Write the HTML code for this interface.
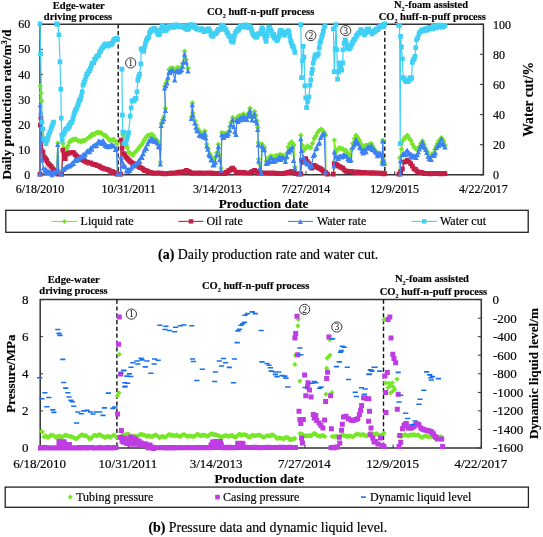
<!DOCTYPE html>
<html lang="en"><head><meta charset="utf-8"><title>Production data</title>
<style>html,body{margin:0;padding:0;background:#fff}</style></head>
<body>
<svg width="543" height="537" viewBox="0 0 543 537" style="display:block;font-family:'Liberation Serif','Times New Roman',serif">
<rect width="543" height="537" fill="#fff"/>
<g stroke="#333" stroke-width="1.5" fill="none">
<path d="M40 24.2V174.8H483.4V24.2H39.4"/>
<path stroke-width="1" d="M40 24.2h3M40 49.3h3M40 74.4h3M40 99.5h3M40 124.6h3M40 149.7h3M40 174.8h3M483.4 24.2h-3.5M483.4 54.3h-3.5M483.4 84.4h-3.5M483.4 114.6h-3.5M483.4 144.7h-3.5M483.4 174.8h-3.5M40 174.8v-3.5M128.7 174.8v-3.5M217.4 174.8v-3.5M306 174.8v-3.5M394.7 174.8v-3.5M483.4 174.8v-3.5"/>
</g>
<path d="M118.2 24.2V174.8M384.8 24.2V174.8" stroke="#111" stroke-width="1.4" stroke-dasharray="4.2 2.6" fill="none"/>
<path d="M40 174 L40.3 86 L41 93 L41.6 101 L42 128 L42.6 150 L44.5 156 L48 163 L52.8 168 L56.5 172 L57.8 143 L59 171" fill="none" stroke="#78E628" stroke-width="1.2" stroke-linejoin="round"/>
<path d="M61.5 174 L62.8 143.6 L65.3 153.7 L69.5 142 L74.5 139.4 L81.2 142 L86.3 139.4 L93 134.4 L98.8 132.7 L104.7 135.2 L109.7 140.3 L114.8 140.3 L117 143.6 L117.5 174" fill="none" stroke="#78E628" stroke-width="1.2" stroke-linejoin="round"/>
<path d="M121 174 L121.5 140 L124.4 132 L126 145 L128.6 152 L132.8 155.4 L137.8 149.5 L142.8 142.8 L147 136 L152 134.4 L156.2 139.4 L159.6 145.3 L160.4 162 L161.2 123.5 L163.8 116.8 L165.4 108.4 L164.6 86 L167 81 L169 69.5 L173 68 L174.7 71 L176.3 68.5 L180.5 68 L182.5 63.5 L184.6 51.3 L186.2 59.5 L188 68.5" fill="none" stroke="#78E628" stroke-width="1.2" stroke-linejoin="round"/>
<path d="M191.4 117 L192.3 102.9 L193 113 L194.8 120.8 L198 129 L201.5 134 L204.8 131 L205.9 136 L206.7 144 L210 154 L214.2 162.7 L216.8 152.7 L218.4 144.3 L221 168 L221.8 132.6 L225 133.4 L228.5 131.7 L231 122.5 L232.7 117.5 L236 121 L236.9 118 L240.2 115.8 L243.6 114 L246.9 117.5 L250 108.3 L252 118 L254.5 111.6 L257 120.8 L257.8 127.5 L258.3 142.6 L258.7 159 L261.2 171.5 L262 144 L264.5 147.7 L266.2 161 L270.4 156 L273.7 157.7 L278.8 155.2 L283.8 156 L285.5 159 L288.2 147 L291.5 142 L294 145.3 L294.9 167" fill="none" stroke="#78E628" stroke-width="1.2" stroke-linejoin="round"/>
<path d="M300.2 174 L300.8 135.2 L302.4 145.3 L304 150.3 L307.5 146 L310.8 147.8 L314.2 138.6 L317.5 132.7 L320.9 129.4 L324.2 132 L325.6 135 L325.9 174" fill="none" stroke="#78E628" stroke-width="1.2" stroke-linejoin="round"/>
<path d="M333.8 174 L334.3 140.3 L336 152 L339.3 147.8 L342.7 148.7 L346.8 152 L350.2 157 L352.7 143.6 L356 135.2 L359.4 140.3 L362.8 147.8 L367.8 145.3 L371.4 143.6 L376.4 152.8 L380.6 153.7 L382.2 162 L382.7 140.3 L383.5 160 L384.8 163.7" fill="none" stroke="#78E628" stroke-width="1.2" stroke-linejoin="round"/>
<path d="M399 174 L399.8 157.9 L403.2 140.3 L407.4 135.2 L410.7 140.3 L414 147 L416.6 149.5 L419 147 L422.5 141 L425.8 148.7 L429.2 157 L433.4 153.7 L437.5 143.6 L441.4 137.8 L445 145.3" fill="none" stroke="#78E628" stroke-width="1.2" stroke-linejoin="round"/>
<path d="M40 171.2l2.8 2.8l-2.8 2.8l-2.8 -2.8zM40.3 83.2l2.8 2.8l-2.8 2.8l-2.8 -2.8zM41 90.2l2.8 2.8l-2.8 2.8l-2.8 -2.8zM41.6 98.2l2.8 2.8l-2.8 2.8l-2.8 -2.8zM42 125.2l2.8 2.8l-2.8 2.8l-2.8 -2.8zM42.6 147.2l2.8 2.8l-2.8 2.8l-2.8 -2.8zM44.5 153.2l2.8 2.8l-2.8 2.8l-2.8 -2.8zM46.2 156.2l2.8 2.8l-2.8 2.8l-2.8 -2.8zM48 160.2l2.8 2.8l-2.8 2.8l-2.8 -2.8zM49.6 161.1l2.8 2.8l-2.8 2.8l-2.8 -2.8zM51.2 163.5l2.8 2.8l-2.8 2.8l-2.8 -2.8zM52.8 165.2l2.8 2.8l-2.8 2.8l-2.8 -2.8zM54 165.6l2.8 2.8l-2.8 2.8l-2.8 -2.8zM55.3 167.7l2.8 2.8l-2.8 2.8l-2.8 -2.8zM56.5 169.2l2.8 2.8l-2.8 2.8l-2.8 -2.8zM57.8 140.2l2.8 2.8l-2.8 2.8l-2.8 -2.8zM59 168.2l2.8 2.8l-2.8 2.8l-2.8 -2.8zM61.5 171.2l2.8 2.8l-2.8 2.8l-2.8 -2.8zM62.8 140.8l2.8 2.8l-2.8 2.8l-2.8 -2.8zM64 145.4l2.8 2.8l-2.8 2.8l-2.8 -2.8zM65.3 150.9l2.8 2.8l-2.8 2.8l-2.8 -2.8zM66.7 146.1l2.8 2.8l-2.8 2.8l-2.8 -2.8zM68.1 142.9l2.8 2.8l-2.8 2.8l-2.8 -2.8zM69.5 139.2l2.8 2.8l-2.8 2.8l-2.8 -2.8zM70.8 137.6l2.8 2.8l-2.8 2.8l-2.8 -2.8zM72 137.6l2.8 2.8l-2.8 2.8l-2.8 -2.8zM73.2 136.4l2.8 2.8l-2.8 2.8l-2.8 -2.8zM74.5 136.6l2.8 2.8l-2.8 2.8l-2.8 -2.8zM75.8 136.3l2.8 2.8l-2.8 2.8l-2.8 -2.8zM77.2 137.3l2.8 2.8l-2.8 2.8l-2.8 -2.8zM78.5 138.4l2.8 2.8l-2.8 2.8l-2.8 -2.8zM79.9 137.9l2.8 2.8l-2.8 2.8l-2.8 -2.8zM81.2 139.2l2.8 2.8l-2.8 2.8l-2.8 -2.8zM82.5 137.9l2.8 2.8l-2.8 2.8l-2.8 -2.8zM83.8 137.8l2.8 2.8l-2.8 2.8l-2.8 -2.8zM85 137.7l2.8 2.8l-2.8 2.8l-2.8 -2.8zM86.3 136.6l2.8 2.8l-2.8 2.8l-2.8 -2.8zM87.6 135.5l2.8 2.8l-2.8 2.8l-2.8 -2.8zM89 134.2l2.8 2.8l-2.8 2.8l-2.8 -2.8zM90.3 134.1l2.8 2.8l-2.8 2.8l-2.8 -2.8zM91.7 131.7l2.8 2.8l-2.8 2.8l-2.8 -2.8zM93 131.6l2.8 2.8l-2.8 2.8l-2.8 -2.8zM94.5 131.5l2.8 2.8l-2.8 2.8l-2.8 -2.8zM95.9 130.2l2.8 2.8l-2.8 2.8l-2.8 -2.8zM97.3 129.5l2.8 2.8l-2.8 2.8l-2.8 -2.8zM98.8 129.9l2.8 2.8l-2.8 2.8l-2.8 -2.8zM100.3 129.7l2.8 2.8l-2.8 2.8l-2.8 -2.8zM101.8 130.6l2.8 2.8l-2.8 2.8l-2.8 -2.8zM103.2 132l2.8 2.8l-2.8 2.8l-2.8 -2.8zM104.7 132.4l2.8 2.8l-2.8 2.8l-2.8 -2.8zM106 132.9l2.8 2.8l-2.8 2.8l-2.8 -2.8zM107.2 134.8l2.8 2.8l-2.8 2.8l-2.8 -2.8zM108.5 136.2l2.8 2.8l-2.8 2.8l-2.8 -2.8zM109.7 137.5l2.8 2.8l-2.8 2.8l-2.8 -2.8zM111 137.1l2.8 2.8l-2.8 2.8l-2.8 -2.8zM112.2 137.3l2.8 2.8l-2.8 2.8l-2.8 -2.8zM113.5 136.6l2.8 2.8l-2.8 2.8l-2.8 -2.8zM114.8 137.5l2.8 2.8l-2.8 2.8l-2.8 -2.8zM117 140.8l2.8 2.8l-2.8 2.8l-2.8 -2.8zM117.5 171.2l2.8 2.8l-2.8 2.8l-2.8 -2.8zM121 171.2l2.8 2.8l-2.8 2.8l-2.8 -2.8zM121.5 137.2l2.8 2.8l-2.8 2.8l-2.8 -2.8zM123 132.3l2.8 2.8l-2.8 2.8l-2.8 -2.8zM124.4 129.2l2.8 2.8l-2.8 2.8l-2.8 -2.8zM126 142.2l2.8 2.8l-2.8 2.8l-2.8 -2.8zM127.3 145l2.8 2.8l-2.8 2.8l-2.8 -2.8zM128.6 149.2l2.8 2.8l-2.8 2.8l-2.8 -2.8zM130 150.4l2.8 2.8l-2.8 2.8l-2.8 -2.8zM131.4 151.1l2.8 2.8l-2.8 2.8l-2.8 -2.8zM132.8 152.6l2.8 2.8l-2.8 2.8l-2.8 -2.8zM134.1 150.6l2.8 2.8l-2.8 2.8l-2.8 -2.8zM135.3 149.5l2.8 2.8l-2.8 2.8l-2.8 -2.8zM136.6 147.9l2.8 2.8l-2.8 2.8l-2.8 -2.8zM137.8 146.7l2.8 2.8l-2.8 2.8l-2.8 -2.8zM139.1 144.5l2.8 2.8l-2.8 2.8l-2.8 -2.8zM140.3 143.5l2.8 2.8l-2.8 2.8l-2.8 -2.8zM141.6 141.7l2.8 2.8l-2.8 2.8l-2.8 -2.8zM142.8 140l2.8 2.8l-2.8 2.8l-2.8 -2.8zM144.2 137.1l2.8 2.8l-2.8 2.8l-2.8 -2.8zM145.6 135.3l2.8 2.8l-2.8 2.8l-2.8 -2.8zM147 133.2l2.8 2.8l-2.8 2.8l-2.8 -2.8zM148.2 132.6l2.8 2.8l-2.8 2.8l-2.8 -2.8zM149.5 132.7l2.8 2.8l-2.8 2.8l-2.8 -2.8zM150.8 132.1l2.8 2.8l-2.8 2.8l-2.8 -2.8zM152 131.6l2.8 2.8l-2.8 2.8l-2.8 -2.8zM153.4 132.7l2.8 2.8l-2.8 2.8l-2.8 -2.8zM154.8 135.4l2.8 2.8l-2.8 2.8l-2.8 -2.8zM156.2 136.6l2.8 2.8l-2.8 2.8l-2.8 -2.8zM157.9 138.7l2.8 2.8l-2.8 2.8l-2.8 -2.8zM159.6 142.5l2.8 2.8l-2.8 2.8l-2.8 -2.8zM160.4 159.2l2.8 2.8l-2.8 2.8l-2.8 -2.8zM161.2 120.7l2.8 2.8l-2.8 2.8l-2.8 -2.8zM162.5 117l2.8 2.8l-2.8 2.8l-2.8 -2.8zM163.8 114l2.8 2.8l-2.8 2.8l-2.8 -2.8zM165.4 105.6l2.8 2.8l-2.8 2.8l-2.8 -2.8zM164.6 83.2l2.8 2.8l-2.8 2.8l-2.8 -2.8zM165.8 80.8l2.8 2.8l-2.8 2.8l-2.8 -2.8zM167 78.2l2.8 2.8l-2.8 2.8l-2.8 -2.8zM169 66.7l2.8 2.8l-2.8 2.8l-2.8 -2.8zM170.3 65.4l2.8 2.8l-2.8 2.8l-2.8 -2.8zM171.7 65.4l2.8 2.8l-2.8 2.8l-2.8 -2.8zM173 65.2l2.8 2.8l-2.8 2.8l-2.8 -2.8zM174.7 68.2l2.8 2.8l-2.8 2.8l-2.8 -2.8zM176.3 65.7l2.8 2.8l-2.8 2.8l-2.8 -2.8zM177.7 64.6l2.8 2.8l-2.8 2.8l-2.8 -2.8zM179.1 65.4l2.8 2.8l-2.8 2.8l-2.8 -2.8zM180.5 65.2l2.8 2.8l-2.8 2.8l-2.8 -2.8zM182.5 60.7l2.8 2.8l-2.8 2.8l-2.8 -2.8zM184.6 48.5l2.8 2.8l-2.8 2.8l-2.8 -2.8zM186.2 56.7l2.8 2.8l-2.8 2.8l-2.8 -2.8zM188 65.7l2.8 2.8l-2.8 2.8l-2.8 -2.8zM191.4 114.2l2.8 2.8l-2.8 2.8l-2.8 -2.8zM192.3 100.1l2.8 2.8l-2.8 2.8l-2.8 -2.8zM193 110.2l2.8 2.8l-2.8 2.8l-2.8 -2.8zM194.8 118l2.8 2.8l-2.8 2.8l-2.8 -2.8zM196.4 122.2l2.8 2.8l-2.8 2.8l-2.8 -2.8zM198 126.2l2.8 2.8l-2.8 2.8l-2.8 -2.8zM199.8 128.6l2.8 2.8l-2.8 2.8l-2.8 -2.8zM201.5 131.2l2.8 2.8l-2.8 2.8l-2.8 -2.8zM203.2 130l2.8 2.8l-2.8 2.8l-2.8 -2.8zM204.8 128.2l2.8 2.8l-2.8 2.8l-2.8 -2.8zM205.9 133.2l2.8 2.8l-2.8 2.8l-2.8 -2.8zM206.7 141.2l2.8 2.8l-2.8 2.8l-2.8 -2.8zM208.3 145.7l2.8 2.8l-2.8 2.8l-2.8 -2.8zM210 151.2l2.8 2.8l-2.8 2.8l-2.8 -2.8zM211.4 154.1l2.8 2.8l-2.8 2.8l-2.8 -2.8zM212.8 156.9l2.8 2.8l-2.8 2.8l-2.8 -2.8zM214.2 159.9l2.8 2.8l-2.8 2.8l-2.8 -2.8zM215.5 154.8l2.8 2.8l-2.8 2.8l-2.8 -2.8zM216.8 149.9l2.8 2.8l-2.8 2.8l-2.8 -2.8zM218.4 141.5l2.8 2.8l-2.8 2.8l-2.8 -2.8zM219.7 153l2.8 2.8l-2.8 2.8l-2.8 -2.8zM221 165.2l2.8 2.8l-2.8 2.8l-2.8 -2.8zM221.8 129.8l2.8 2.8l-2.8 2.8l-2.8 -2.8zM223.4 130.5l2.8 2.8l-2.8 2.8l-2.8 -2.8zM225 130.6l2.8 2.8l-2.8 2.8l-2.8 -2.8zM226.8 130.2l2.8 2.8l-2.8 2.8l-2.8 -2.8zM228.5 128.9l2.8 2.8l-2.8 2.8l-2.8 -2.8zM229.8 124l2.8 2.8l-2.8 2.8l-2.8 -2.8zM231 119.7l2.8 2.8l-2.8 2.8l-2.8 -2.8zM232.7 114.7l2.8 2.8l-2.8 2.8l-2.8 -2.8zM234.3 116.4l2.8 2.8l-2.8 2.8l-2.8 -2.8zM236 118.2l2.8 2.8l-2.8 2.8l-2.8 -2.8zM236.9 115.2l2.8 2.8l-2.8 2.8l-2.8 -2.8zM238.6 113.2l2.8 2.8l-2.8 2.8l-2.8 -2.8zM240.2 113l2.8 2.8l-2.8 2.8l-2.8 -2.8zM241.9 112.2l2.8 2.8l-2.8 2.8l-2.8 -2.8zM243.6 111.2l2.8 2.8l-2.8 2.8l-2.8 -2.8zM245.2 112.9l2.8 2.8l-2.8 2.8l-2.8 -2.8zM246.9 114.7l2.8 2.8l-2.8 2.8l-2.8 -2.8zM248.4 110.6l2.8 2.8l-2.8 2.8l-2.8 -2.8zM250 105.5l2.8 2.8l-2.8 2.8l-2.8 -2.8zM252 115.2l2.8 2.8l-2.8 2.8l-2.8 -2.8zM253.2 112.2l2.8 2.8l-2.8 2.8l-2.8 -2.8zM254.5 108.8l2.8 2.8l-2.8 2.8l-2.8 -2.8zM255.8 112.8l2.8 2.8l-2.8 2.8l-2.8 -2.8zM257 118l2.8 2.8l-2.8 2.8l-2.8 -2.8zM257.8 124.7l2.8 2.8l-2.8 2.8l-2.8 -2.8zM258.3 139.8l2.8 2.8l-2.8 2.8l-2.8 -2.8zM258.7 156.2l2.8 2.8l-2.8 2.8l-2.8 -2.8zM259.9 162l2.8 2.8l-2.8 2.8l-2.8 -2.8zM261.2 168.7l2.8 2.8l-2.8 2.8l-2.8 -2.8zM262 141.2l2.8 2.8l-2.8 2.8l-2.8 -2.8zM263.2 143.1l2.8 2.8l-2.8 2.8l-2.8 -2.8zM264.5 144.9l2.8 2.8l-2.8 2.8l-2.8 -2.8zM266.2 158.2l2.8 2.8l-2.8 2.8l-2.8 -2.8zM267.6 155.6l2.8 2.8l-2.8 2.8l-2.8 -2.8zM269 154.6l2.8 2.8l-2.8 2.8l-2.8 -2.8zM270.4 153.2l2.8 2.8l-2.8 2.8l-2.8 -2.8zM272 153.3l2.8 2.8l-2.8 2.8l-2.8 -2.8zM273.7 154.9l2.8 2.8l-2.8 2.8l-2.8 -2.8zM275 153.5l2.8 2.8l-2.8 2.8l-2.8 -2.8zM276.2 152.7l2.8 2.8l-2.8 2.8l-2.8 -2.8zM277.5 153.2l2.8 2.8l-2.8 2.8l-2.8 -2.8zM278.8 152.4l2.8 2.8l-2.8 2.8l-2.8 -2.8zM280.1 151.8l2.8 2.8l-2.8 2.8l-2.8 -2.8zM281.3 152.2l2.8 2.8l-2.8 2.8l-2.8 -2.8zM282.6 152.6l2.8 2.8l-2.8 2.8l-2.8 -2.8zM283.8 153.2l2.8 2.8l-2.8 2.8l-2.8 -2.8zM285.5 156.2l2.8 2.8l-2.8 2.8l-2.8 -2.8zM286.9 150.5l2.8 2.8l-2.8 2.8l-2.8 -2.8zM288.2 144.2l2.8 2.8l-2.8 2.8l-2.8 -2.8zM289.9 140.8l2.8 2.8l-2.8 2.8l-2.8 -2.8zM291.5 139.2l2.8 2.8l-2.8 2.8l-2.8 -2.8zM292.8 140.5l2.8 2.8l-2.8 2.8l-2.8 -2.8zM294 142.5l2.8 2.8l-2.8 2.8l-2.8 -2.8zM294.9 164.2l2.8 2.8l-2.8 2.8l-2.8 -2.8zM300.2 171.2l2.8 2.8l-2.8 2.8l-2.8 -2.8zM300.8 132.4l2.8 2.8l-2.8 2.8l-2.8 -2.8zM302.4 142.5l2.8 2.8l-2.8 2.8l-2.8 -2.8zM304 147.5l2.8 2.8l-2.8 2.8l-2.8 -2.8zM305.8 145.2l2.8 2.8l-2.8 2.8l-2.8 -2.8zM307.5 143.2l2.8 2.8l-2.8 2.8l-2.8 -2.8zM309.1 144.4l2.8 2.8l-2.8 2.8l-2.8 -2.8zM310.8 145l2.8 2.8l-2.8 2.8l-2.8 -2.8zM312.5 140.6l2.8 2.8l-2.8 2.8l-2.8 -2.8zM314.2 135.8l2.8 2.8l-2.8 2.8l-2.8 -2.8zM315.9 133.1l2.8 2.8l-2.8 2.8l-2.8 -2.8zM317.5 129.9l2.8 2.8l-2.8 2.8l-2.8 -2.8zM319.2 127.7l2.8 2.8l-2.8 2.8l-2.8 -2.8zM320.9 126.6l2.8 2.8l-2.8 2.8l-2.8 -2.8zM322.5 127.5l2.8 2.8l-2.8 2.8l-2.8 -2.8zM324.2 129.2l2.8 2.8l-2.8 2.8l-2.8 -2.8zM325.6 132.2l2.8 2.8l-2.8 2.8l-2.8 -2.8zM325.9 171.2l2.8 2.8l-2.8 2.8l-2.8 -2.8zM333.8 171.2l2.8 2.8l-2.8 2.8l-2.8 -2.8zM334.3 137.5l2.8 2.8l-2.8 2.8l-2.8 -2.8zM336 149.2l2.8 2.8l-2.8 2.8l-2.8 -2.8zM337.6 146.6l2.8 2.8l-2.8 2.8l-2.8 -2.8zM339.3 145l2.8 2.8l-2.8 2.8l-2.8 -2.8zM341 145.8l2.8 2.8l-2.8 2.8l-2.8 -2.8zM342.7 145.9l2.8 2.8l-2.8 2.8l-2.8 -2.8zM344.1 147.4l2.8 2.8l-2.8 2.8l-2.8 -2.8zM345.4 147.3l2.8 2.8l-2.8 2.8l-2.8 -2.8zM346.8 149.2l2.8 2.8l-2.8 2.8l-2.8 -2.8zM348.5 151l2.8 2.8l-2.8 2.8l-2.8 -2.8zM350.2 154.2l2.8 2.8l-2.8 2.8l-2.8 -2.8zM351.4 146.8l2.8 2.8l-2.8 2.8l-2.8 -2.8zM352.7 140.8l2.8 2.8l-2.8 2.8l-2.8 -2.8zM354.4 136l2.8 2.8l-2.8 2.8l-2.8 -2.8zM356 132.4l2.8 2.8l-2.8 2.8l-2.8 -2.8zM357.7 134.7l2.8 2.8l-2.8 2.8l-2.8 -2.8zM359.4 137.5l2.8 2.8l-2.8 2.8l-2.8 -2.8zM361.1 141.1l2.8 2.8l-2.8 2.8l-2.8 -2.8zM362.8 145l2.8 2.8l-2.8 2.8l-2.8 -2.8zM364.1 143.8l2.8 2.8l-2.8 2.8l-2.8 -2.8zM365.3 142.8l2.8 2.8l-2.8 2.8l-2.8 -2.8zM366.6 142.8l2.8 2.8l-2.8 2.8l-2.8 -2.8zM367.8 142.5l2.8 2.8l-2.8 2.8l-2.8 -2.8zM369.6 141.2l2.8 2.8l-2.8 2.8l-2.8 -2.8zM371.4 140.8l2.8 2.8l-2.8 2.8l-2.8 -2.8zM372.6 142.9l2.8 2.8l-2.8 2.8l-2.8 -2.8zM373.9 145.8l2.8 2.8l-2.8 2.8l-2.8 -2.8zM375.1 147.7l2.8 2.8l-2.8 2.8l-2.8 -2.8zM376.4 150l2.8 2.8l-2.8 2.8l-2.8 -2.8zM377.8 150.1l2.8 2.8l-2.8 2.8l-2.8 -2.8zM379.2 150.5l2.8 2.8l-2.8 2.8l-2.8 -2.8zM380.6 150.9l2.8 2.8l-2.8 2.8l-2.8 -2.8zM382.2 159.2l2.8 2.8l-2.8 2.8l-2.8 -2.8zM382.7 137.5l2.8 2.8l-2.8 2.8l-2.8 -2.8zM383.5 157.2l2.8 2.8l-2.8 2.8l-2.8 -2.8zM384.8 160.9l2.8 2.8l-2.8 2.8l-2.8 -2.8zM399 171.2l2.8 2.8l-2.8 2.8l-2.8 -2.8zM399.8 155.1l2.8 2.8l-2.8 2.8l-2.8 -2.8zM401.5 146.3l2.8 2.8l-2.8 2.8l-2.8 -2.8zM403.2 137.5l2.8 2.8l-2.8 2.8l-2.8 -2.8zM404.6 134.9l2.8 2.8l-2.8 2.8l-2.8 -2.8zM406 134.4l2.8 2.8l-2.8 2.8l-2.8 -2.8zM407.4 132.4l2.8 2.8l-2.8 2.8l-2.8 -2.8zM409 135.1l2.8 2.8l-2.8 2.8l-2.8 -2.8zM410.7 137.5l2.8 2.8l-2.8 2.8l-2.8 -2.8zM412.4 141.2l2.8 2.8l-2.8 2.8l-2.8 -2.8zM414 144.2l2.8 2.8l-2.8 2.8l-2.8 -2.8zM415.3 145.6l2.8 2.8l-2.8 2.8l-2.8 -2.8zM416.6 146.7l2.8 2.8l-2.8 2.8l-2.8 -2.8zM419 144.2l2.8 2.8l-2.8 2.8l-2.8 -2.8zM420.8 140.8l2.8 2.8l-2.8 2.8l-2.8 -2.8zM422.5 138.2l2.8 2.8l-2.8 2.8l-2.8 -2.8zM424.1 141.6l2.8 2.8l-2.8 2.8l-2.8 -2.8zM425.8 145.9l2.8 2.8l-2.8 2.8l-2.8 -2.8zM427.5 149.2l2.8 2.8l-2.8 2.8l-2.8 -2.8zM429.2 154.2l2.8 2.8l-2.8 2.8l-2.8 -2.8zM430.6 153.1l2.8 2.8l-2.8 2.8l-2.8 -2.8zM432 151.1l2.8 2.8l-2.8 2.8l-2.8 -2.8zM433.4 150.9l2.8 2.8l-2.8 2.8l-2.8 -2.8zM434.8 146.6l2.8 2.8l-2.8 2.8l-2.8 -2.8zM436.1 143.5l2.8 2.8l-2.8 2.8l-2.8 -2.8zM437.5 140.8l2.8 2.8l-2.8 2.8l-2.8 -2.8zM438.8 138.1l2.8 2.8l-2.8 2.8l-2.8 -2.8zM440.1 136.4l2.8 2.8l-2.8 2.8l-2.8 -2.8zM441.4 135l2.8 2.8l-2.8 2.8l-2.8 -2.8zM442.6 136.6l2.8 2.8l-2.8 2.8l-2.8 -2.8zM443.8 139l2.8 2.8l-2.8 2.8l-2.8 -2.8zM445 142.5l2.8 2.8l-2.8 2.8l-2.8 -2.8z" fill="#78E628" stroke="none"/>
<path d="M40 174 L40.4 125 L41 118 L41.8 140 L43 152 L44.4 157 L48 163 L52.8 168.8 L57.8 174 L60 174" fill="none" stroke="#C31E46" stroke-width="1.2" stroke-linejoin="round"/>
<path d="M61.8 174 L62.8 150 L65.3 158.7 L67 154 L69.5 152.8 L73.7 152.8 L79.6 158.7 L86.3 162 L94.7 164.6 L103 168 L111.4 171.3 L116.4 173.5 L117.5 174" fill="none" stroke="#C31E46" stroke-width="1.2" stroke-linejoin="round"/>
<path d="M120.5 174 L121 140 L122 148 L123.5 153.7 L126 157 L131 162 L137.8 166 L144.5 170.4 L152.9 173 L166.3 173.6 L183 172 L186.4 170.4 L191.4 173 L205 173 L225 173.5 L230 170 L232.7 168 L236 172 L250 173 L254.5 170.4 L258 173 L284 173.4 L292.4 171.3 L295.7 173.5 L300.8 173.8 L301.6 160.4 L304 162 L305.8 158.7 L309 163.7 L311.7 168 L314.2 165.4 L319.2 168 L324.2 172 L327.6 174" fill="none" stroke="#C31E46" stroke-width="1.2" stroke-linejoin="round"/>
<path d="M333.4 174 L334.3 163.7 L339.3 166.3 L342.7 168 L346 171.3 L354.4 172 L374 173 L384.8 173.6" fill="none" stroke="#C31E46" stroke-width="1.2" stroke-linejoin="round"/>
<path d="M399 174 L402.4 168.8 L404 162 L407.4 160.4 L410.7 163.7 L414 168.8 L418.3 172 L426.7 173.6 L445 173.6" fill="none" stroke="#C31E46" stroke-width="1.2" stroke-linejoin="round"/>
<path d="M37.6 171.7h4.7v4.7h-4.7zM38 122.7h4.7v4.7h-4.7zM38.6 115.7h4.7v4.7h-4.7zM39.4 137.7h4.7v4.7h-4.7zM40.6 149.7h4.7v4.7h-4.7zM42 154.7h4.7v4.7h-4.7zM43.2 156.4h4.7v4.7h-4.7zM44.4 158.3h4.7v4.7h-4.7zM45.6 160.7h4.7v4.7h-4.7zM47.2 162.5h4.7v4.7h-4.7zM48.8 164.1h4.7v4.7h-4.7zM50.4 166.5h4.7v4.7h-4.7zM51.7 168h4.7v4.7h-4.7zM52.9 169.1h4.7v4.7h-4.7zM54.2 170.1h4.7v4.7h-4.7zM55.4 171.7h4.7v4.7h-4.7zM57.6 171.7h4.7v4.7h-4.7zM59.4 171.7h4.7v4.7h-4.7zM60.4 147.7h4.7v4.7h-4.7zM61.7 151.8h4.7v4.7h-4.7zM62.9 156.3h4.7v4.7h-4.7zM64.7 151.7h4.7v4.7h-4.7zM65.9 150.9h4.7v4.7h-4.7zM67.2 150.5h4.7v4.7h-4.7zM68.6 150.3h4.7v4.7h-4.7zM70 150.1h4.7v4.7h-4.7zM71.4 150.5h4.7v4.7h-4.7zM72.8 152.2h4.7v4.7h-4.7zM74.3 153.8h4.7v4.7h-4.7zM75.8 154.8h4.7v4.7h-4.7zM77.2 156.3h4.7v4.7h-4.7zM78.6 157h4.7v4.7h-4.7zM79.9 157.3h4.7v4.7h-4.7zM81.3 158h4.7v4.7h-4.7zM82.6 158.9h4.7v4.7h-4.7zM84 159.7h4.7v4.7h-4.7zM85.2 159.8h4.7v4.7h-4.7zM86.4 160.7h4.7v4.7h-4.7zM87.6 160.5h4.7v4.7h-4.7zM88.8 160.8h4.7v4.7h-4.7zM90 161.9h4.7v4.7h-4.7zM91.2 161.9h4.7v4.7h-4.7zM92.4 162.2h4.7v4.7h-4.7zM93.7 162.5h4.7v4.7h-4.7zM95.1 163.4h4.7v4.7h-4.7zM96.5 163.6h4.7v4.7h-4.7zM97.9 164.5h4.7v4.7h-4.7zM99.3 165.5h4.7v4.7h-4.7zM100.7 165.7h4.7v4.7h-4.7zM101.9 166.4h4.7v4.7h-4.7zM103.1 166.7h4.7v4.7h-4.7zM104.3 166.9h4.7v4.7h-4.7zM105.5 167.4h4.7v4.7h-4.7zM106.7 167.7h4.7v4.7h-4.7zM107.9 168.7h4.7v4.7h-4.7zM109.1 169h4.7v4.7h-4.7zM110.3 169.5h4.7v4.7h-4.7zM111.6 170.3h4.7v4.7h-4.7zM112.8 170.5h4.7v4.7h-4.7zM114.1 171.2h4.7v4.7h-4.7zM115.2 171.7h4.7v4.7h-4.7zM118.2 171.7h4.7v4.7h-4.7zM118.7 137.7h4.7v4.7h-4.7zM119.7 145.7h4.7v4.7h-4.7zM121.2 151.3h4.7v4.7h-4.7zM122.4 152.8h4.7v4.7h-4.7zM123.7 154.7h4.7v4.7h-4.7zM124.9 156.1h4.7v4.7h-4.7zM126.2 157.5h4.7v4.7h-4.7zM127.4 158.7h4.7v4.7h-4.7zM128.7 159.7h4.7v4.7h-4.7zM130 160.7h4.7v4.7h-4.7zM131.4 161.5h4.7v4.7h-4.7zM132.7 162.2h4.7v4.7h-4.7zM134.1 162.6h4.7v4.7h-4.7zM135.5 163.7h4.7v4.7h-4.7zM136.8 164.5h4.7v4.7h-4.7zM138.1 165.3h4.7v4.7h-4.7zM139.5 165.9h4.7v4.7h-4.7zM140.8 166.8h4.7v4.7h-4.7zM142.2 168.1h4.7v4.7h-4.7zM143.3 168.2h4.7v4.7h-4.7zM144.6 168.6h4.7v4.7h-4.7zM145.8 169.3h4.7v4.7h-4.7zM147 169.9h4.7v4.7h-4.7zM148.2 169.9h4.7v4.7h-4.7zM149.4 170.6h4.7v4.7h-4.7zM150.6 170.7h4.7v4.7h-4.7zM151.8 171.1h4.7v4.7h-4.7zM153 171.1h4.7v4.7h-4.7zM154.2 170.7h4.7v4.7h-4.7zM155.4 170.6h4.7v4.7h-4.7zM156.6 170.7h4.7v4.7h-4.7zM157.9 170.7h4.7v4.7h-4.7zM159.1 170.8h4.7v4.7h-4.7zM160.3 171.2h4.7v4.7h-4.7zM161.5 171.5h4.7v4.7h-4.7zM162.7 171.5h4.7v4.7h-4.7zM164 171.2h4.7v4.7h-4.7zM165.2 171.1h4.7v4.7h-4.7zM166.5 171.1h4.7v4.7h-4.7zM167.8 171.1h4.7v4.7h-4.7zM169.1 170.4h4.7v4.7h-4.7zM170.4 170.8h4.7v4.7h-4.7zM171.7 170.8h4.7v4.7h-4.7zM172.9 170.6h4.7v4.7h-4.7zM174.2 170.5h4.7v4.7h-4.7zM175.5 170.1h4.7v4.7h-4.7zM176.8 169.8h4.7v4.7h-4.7zM178.1 170.1h4.7v4.7h-4.7zM179.4 169.6h4.7v4.7h-4.7zM180.7 169.7h4.7v4.7h-4.7zM182.3 169.1h4.7v4.7h-4.7zM184.1 168.1h4.7v4.7h-4.7zM185.3 169.1h4.7v4.7h-4.7zM186.6 169.3h4.7v4.7h-4.7zM187.8 169.9h4.7v4.7h-4.7zM189.1 170.7h4.7v4.7h-4.7zM190.3 171h4.7v4.7h-4.7zM191.5 170.8h4.7v4.7h-4.7zM192.8 170.4h4.7v4.7h-4.7zM194 170.4h4.7v4.7h-4.7zM195.2 170.4h4.7v4.7h-4.7zM196.5 171h4.7v4.7h-4.7zM197.7 170.9h4.7v4.7h-4.7zM198.9 170.4h4.7v4.7h-4.7zM200.2 170.9h4.7v4.7h-4.7zM201.4 171h4.7v4.7h-4.7zM202.7 170.7h4.7v4.7h-4.7zM203.9 170.8h4.7v4.7h-4.7zM205.2 170.6h4.7v4.7h-4.7zM206.4 170.8h4.7v4.7h-4.7zM207.7 170.5h4.7v4.7h-4.7zM208.9 170.4h4.7v4.7h-4.7zM210.2 171.2h4.7v4.7h-4.7zM211.4 171h4.7v4.7h-4.7zM212.7 170.9h4.7v4.7h-4.7zM213.9 171.3h4.7v4.7h-4.7zM215.2 170.9h4.7v4.7h-4.7zM216.4 171.3h4.7v4.7h-4.7zM217.7 171.3h4.7v4.7h-4.7zM218.9 170.8h4.7v4.7h-4.7zM220.2 170.9h4.7v4.7h-4.7zM221.4 171h4.7v4.7h-4.7zM222.7 171.2h4.7v4.7h-4.7zM223.9 170.1h4.7v4.7h-4.7zM225.2 169.5h4.7v4.7h-4.7zM226.4 168.3h4.7v4.7h-4.7zM227.7 167.7h4.7v4.7h-4.7zM229 166.6h4.7v4.7h-4.7zM230.3 165.7h4.7v4.7h-4.7zM232 167.4h4.7v4.7h-4.7zM233.7 169.7h4.7v4.7h-4.7zM234.9 170.1h4.7v4.7h-4.7zM236.2 169.7h4.7v4.7h-4.7zM237.5 169.9h4.7v4.7h-4.7zM238.7 170.1h4.7v4.7h-4.7zM240 170.4h4.7v4.7h-4.7zM241.3 170.1h4.7v4.7h-4.7zM242.6 170.6h4.7v4.7h-4.7zM243.8 170.4h4.7v4.7h-4.7zM245.1 170.5h4.7v4.7h-4.7zM246.4 170.6h4.7v4.7h-4.7zM247.7 170.7h4.7v4.7h-4.7zM249.2 169.4h4.7v4.7h-4.7zM250.7 168.9h4.7v4.7h-4.7zM252.2 168.1h4.7v4.7h-4.7zM253.9 169.1h4.7v4.7h-4.7zM255.7 170.7h4.7v4.7h-4.7zM256.9 170.3h4.7v4.7h-4.7zM258.1 170.9h4.7v4.7h-4.7zM259.4 170.4h4.7v4.7h-4.7zM260.6 170.7h4.7v4.7h-4.7zM261.8 170.9h4.7v4.7h-4.7zM263.1 170.8h4.7v4.7h-4.7zM264.3 170.6h4.7v4.7h-4.7zM265.6 170.8h4.7v4.7h-4.7zM266.8 170.9h4.7v4.7h-4.7zM268 171.1h4.7v4.7h-4.7zM269.3 170.5h4.7v4.7h-4.7zM270.5 170.9h4.7v4.7h-4.7zM271.7 170.7h4.7v4.7h-4.7zM273 170.7h4.7v4.7h-4.7zM274.2 171.2h4.7v4.7h-4.7zM275.5 171h4.7v4.7h-4.7zM276.7 171h4.7v4.7h-4.7zM277.9 171.2h4.7v4.7h-4.7zM279.2 171.3h4.7v4.7h-4.7zM280.4 171h4.7v4.7h-4.7zM281.6 171.1h4.7v4.7h-4.7zM283 170.8h4.7v4.7h-4.7zM284.4 170.4h4.7v4.7h-4.7zM285.8 170h4.7v4.7h-4.7zM287.2 169.8h4.7v4.7h-4.7zM288.6 169.3h4.7v4.7h-4.7zM290 169h4.7v4.7h-4.7zM291.7 170.1h4.7v4.7h-4.7zM293.3 171.2h4.7v4.7h-4.7zM294.6 171.2h4.7v4.7h-4.7zM295.9 171.7h4.7v4.7h-4.7zM297.2 171.5h4.7v4.7h-4.7zM298.4 171.5h4.7v4.7h-4.7zM299.2 158.1h4.7v4.7h-4.7zM301.6 159.7h4.7v4.7h-4.7zM303.4 156.3h4.7v4.7h-4.7zM305 159.2h4.7v4.7h-4.7zM306.6 161.3h4.7v4.7h-4.7zM308 163.9h4.7v4.7h-4.7zM309.3 165.7h4.7v4.7h-4.7zM310.6 164.2h4.7v4.7h-4.7zM311.8 163.1h4.7v4.7h-4.7zM313.1 163.7h4.7v4.7h-4.7zM314.3 164.7h4.7v4.7h-4.7zM315.6 165.3h4.7v4.7h-4.7zM316.8 165.7h4.7v4.7h-4.7zM318.1 166.4h4.7v4.7h-4.7zM319.3 167.3h4.7v4.7h-4.7zM320.6 168.6h4.7v4.7h-4.7zM321.8 169.7h4.7v4.7h-4.7zM323.5 170.3h4.7v4.7h-4.7zM325.2 171.7h4.7v4.7h-4.7zM331 171.7h4.7v4.7h-4.7zM331.9 161.3h4.7v4.7h-4.7zM333.2 161.8h4.7v4.7h-4.7zM334.4 162.3h4.7v4.7h-4.7zM335.7 163.4h4.7v4.7h-4.7zM336.9 164h4.7v4.7h-4.7zM338.6 165h4.7v4.7h-4.7zM340.3 165.7h4.7v4.7h-4.7zM342 167.6h4.7v4.7h-4.7zM343.6 169h4.7v4.7h-4.7zM345 168.8h4.7v4.7h-4.7zM346.4 169.4h4.7v4.7h-4.7zM347.8 169.4h4.7v4.7h-4.7zM349.2 169.1h4.7v4.7h-4.7zM350.6 169.8h4.7v4.7h-4.7zM352 169.7h4.7v4.7h-4.7zM353.3 170.1h4.7v4.7h-4.7zM354.5 169.6h4.7v4.7h-4.7zM355.7 170.2h4.7v4.7h-4.7zM356.9 169.8h4.7v4.7h-4.7zM358.2 170h4.7v4.7h-4.7zM359.4 170.4h4.7v4.7h-4.7zM360.6 170.4h4.7v4.7h-4.7zM361.8 169.9h4.7v4.7h-4.7zM363.1 170.2h4.7v4.7h-4.7zM364.3 170.3h4.7v4.7h-4.7zM365.5 170.2h4.7v4.7h-4.7zM366.8 170.2h4.7v4.7h-4.7zM368 170.3h4.7v4.7h-4.7zM369.2 170.7h4.7v4.7h-4.7zM370.4 170.2h4.7v4.7h-4.7zM371.6 170.7h4.7v4.7h-4.7zM372.8 170.8h4.7v4.7h-4.7zM374 170.7h4.7v4.7h-4.7zM375.2 170.5h4.7v4.7h-4.7zM376.4 170.8h4.7v4.7h-4.7zM377.6 171.1h4.7v4.7h-4.7zM378.8 171.1h4.7v4.7h-4.7zM380.1 170.8h4.7v4.7h-4.7zM381.2 171.6h4.7v4.7h-4.7zM382.4 171.2h4.7v4.7h-4.7zM396.6 171.7h4.7v4.7h-4.7zM398.3 169.3h4.7v4.7h-4.7zM400 166.5h4.7v4.7h-4.7zM401.6 159.7h4.7v4.7h-4.7zM403.3 159.2h4.7v4.7h-4.7zM405 158.1h4.7v4.7h-4.7zM406.7 159.4h4.7v4.7h-4.7zM408.3 161.3h4.7v4.7h-4.7zM410 163.7h4.7v4.7h-4.7zM411.6 166.5h4.7v4.7h-4.7zM413.1 167.1h4.7v4.7h-4.7zM414.5 168.8h4.7v4.7h-4.7zM415.9 169.7h4.7v4.7h-4.7zM417.3 169.7h4.7v4.7h-4.7zM418.8 169.9h4.7v4.7h-4.7zM420.1 170.4h4.7v4.7h-4.7zM421.5 171h4.7v4.7h-4.7zM422.9 171.2h4.7v4.7h-4.7zM424.3 171.2h4.7v4.7h-4.7zM425.6 171.1h4.7v4.7h-4.7zM426.8 171h4.7v4.7h-4.7zM428 171.6h4.7v4.7h-4.7zM429.2 171.3h4.7v4.7h-4.7zM430.4 171.4h4.7v4.7h-4.7zM431.7 170.9h4.7v4.7h-4.7zM432.9 170.9h4.7v4.7h-4.7zM434.1 171.4h4.7v4.7h-4.7zM435.3 171.2h4.7v4.7h-4.7zM436.5 170.9h4.7v4.7h-4.7zM437.8 171.6h4.7v4.7h-4.7zM439 171.4h4.7v4.7h-4.7zM440.2 171.5h4.7v4.7h-4.7zM441.4 170.9h4.7v4.7h-4.7zM442.6 171.2h4.7v4.7h-4.7z" fill="#C31E46" stroke="none"/>
<path d="M40 174 L40.3 105 L40.8 112 L41.2 140 L42 160 L43.5 168 L48 171 L54 172.5 L56.8 172 L57.8 144.5 L58.6 172" fill="none" stroke="#3C82F5" stroke-width="1.2" stroke-linejoin="round"/>
<path d="M61.5 174 L62.8 168.8 L69.5 166 L74.5 160.4 L81.2 157 L86.3 152 L93 146 L98.8 141 L103 140.3 L108 146 L113 145.3 L116.4 148.7 L117.5 174" fill="none" stroke="#3C82F5" stroke-width="1.2" stroke-linejoin="round"/>
<path d="M120.6 174 L121 157 L123.5 165.4 L128.6 169.6 L132.8 166 L137.8 162 L141 157 L145.3 147.8 L148.7 141 L152 138.6 L156.2 141 L159.6 147 L160.4 164 L161.2 125.5 L163.8 118.8 L165.4 110.4 L164.6 88 L167 83 L169 72 L173 70.5 L174.7 80 L176.3 71 L180.5 70.5 L182.5 66 L184.6 54 L186.2 62 L188 71" fill="none" stroke="#3C82F5" stroke-width="1.2" stroke-linejoin="round"/>
<path d="M191.4 118.5 L192.3 104.7 L193 115 L194.8 122.8 L198 131 L201.5 136 L204.8 133 L205.9 138 L206.7 146 L210 156 L214.2 164.7 L216.8 154.7 L218.4 146.3 L221 169.8 L221.8 134.6 L225 135.4 L228.5 133.7 L231 124.5 L232.7 119.5 L236 134.4 L236.9 120 L240.2 117.8 L243.6 116 L246.9 119.5 L250 110.3 L252 120 L254.5 113.6 L257 122.8 L257.8 129.5 L258.3 144.6 L258.7 161 L261.2 172.5 L262 146 L264.5 149.7 L266.2 163 L270.4 158 L273.7 159.7 L278.8 157.2 L283.8 158 L285.5 161.4 L288.2 151 L292.4 147 L294.9 168" fill="none" stroke="#3C82F5" stroke-width="1.2" stroke-linejoin="round"/>
<path d="M300.2 174 L300.8 138.6 L301.6 150.3 L303.3 157 L305.8 162 L309 163.7 L311.7 165.4 L313.3 155.4 L315.8 148.7 L318.4 143.6 L321.7 135.2 L324.2 133.6 L325.6 172" fill="none" stroke="#3C82F5" stroke-width="1.2" stroke-linejoin="round"/>
<path d="M334 166 L334.3 152 L336 157 L339.3 156.2 L342.7 155.4 L346.8 156.2 L351 159.6 L352.7 147 L356 139.4 L358.6 143.6 L362 151 L367 147.8 L371.4 145.3 L376.4 152.8 L380.6 153.7 L382.2 163 L382.7 141 L383.4 160 L384 163.7" fill="none" stroke="#3C82F5" stroke-width="1.2" stroke-linejoin="round"/>
<path d="M400.3 174 L400.7 160.4 L402.4 154.5 L407.4 150.3 L411.6 154.5 L415 156.2 L418.3 152 L422.5 142 L425.8 149.5 L429.2 158.7 L433.4 155.4 L437.5 145.3 L441.4 138.6 L445 147" fill="none" stroke="#3C82F5" stroke-width="1.2" stroke-linejoin="round"/>
<path d="M40 171.3l2.6 5.3h-5.3zM40.3 102.3l2.6 5.3h-5.3zM40.8 109.3l2.6 5.3h-5.3zM41.2 137.3l2.6 5.3h-5.3zM42 157.3l2.6 5.3h-5.3zM43.5 165.3l2.6 5.3h-5.3zM44.6 168.4l2.6 5.3h-5.3zM45.8 166.3l2.6 5.3h-5.3zM46.9 169.9l2.6 5.3h-5.3zM48 168.3l2.6 5.3h-5.3zM49 169.4l2.6 5.3h-5.3zM50 169.3l2.6 5.3h-5.3zM51 170.3l2.6 5.3h-5.3zM52 171.9l2.6 5.3h-5.3zM53 169.8l2.6 5.3h-5.3zM54 169.8l2.6 5.3h-5.3zM55.4 169.3l2.6 5.3h-5.3zM56.8 169.3l2.6 5.3h-5.3zM57.8 141.8l2.6 5.3h-5.3zM58.6 169.3l2.6 5.3h-5.3zM61.5 171.3l2.6 5.3h-5.3zM62.8 166.2l2.6 5.3h-5.3zM63.9 166.8l2.6 5.3h-5.3zM65 165.3l2.6 5.3h-5.3zM66.2 164.3l2.6 5.3h-5.3zM67.3 164.1l2.6 5.3h-5.3zM68.4 163.2l2.6 5.3h-5.3zM69.5 163.3l2.6 5.3h-5.3zM70.5 162.2l2.6 5.3h-5.3zM71.5 161.4l2.6 5.3h-5.3zM72.5 160.3l2.6 5.3h-5.3zM73.5 160.8l2.6 5.3h-5.3zM74.5 157.8l2.6 5.3h-5.3zM75.6 157.4l2.6 5.3h-5.3zM76.7 157.6l2.6 5.3h-5.3zM77.8 155.9l2.6 5.3h-5.3zM79 155.9l2.6 5.3h-5.3zM80.1 154.2l2.6 5.3h-5.3zM81.2 154.3l2.6 5.3h-5.3zM82.2 153.5l2.6 5.3h-5.3zM83.2 151.6l2.6 5.3h-5.3zM84.3 153.2l2.6 5.3h-5.3zM85.3 151.5l2.6 5.3h-5.3zM86.3 149.3l2.6 5.3h-5.3zM87.4 148.2l2.6 5.3h-5.3zM88.5 148.3l2.6 5.3h-5.3zM89.7 148.9l2.6 5.3h-5.3zM90.8 144.9l2.6 5.3h-5.3zM91.9 146.5l2.6 5.3h-5.3zM93 143.3l2.6 5.3h-5.3zM94.2 143.1l2.6 5.3h-5.3zM95.3 142.3l2.6 5.3h-5.3zM96.5 142.6l2.6 5.3h-5.3zM97.6 140l2.6 5.3h-5.3zM98.8 138.3l2.6 5.3h-5.3zM99.8 139.2l2.6 5.3h-5.3zM100.9 139.7l2.6 5.3h-5.3zM102 140.6l2.6 5.3h-5.3zM103 137.7l2.6 5.3h-5.3zM104 139.2l2.6 5.3h-5.3zM105 142.1l2.6 5.3h-5.3zM106 142.8l2.6 5.3h-5.3zM107 143.7l2.6 5.3h-5.3zM108 143.3l2.6 5.3h-5.3zM109 143.9l2.6 5.3h-5.3zM110 143.5l2.6 5.3h-5.3zM111 142.3l2.6 5.3h-5.3zM112 142.5l2.6 5.3h-5.3zM113 142.7l2.6 5.3h-5.3zM114.1 143.2l2.6 5.3h-5.3zM115.3 146.8l2.6 5.3h-5.3zM116.4 146l2.6 5.3h-5.3zM117.5 171.3l2.6 5.3h-5.3zM120.6 171.3l2.6 5.3h-5.3zM121 154.3l2.6 5.3h-5.3zM122.2 158.7l2.6 5.3h-5.3zM123.5 162.8l2.6 5.3h-5.3zM124.5 163.4l2.6 5.3h-5.3zM125.5 163.9l2.6 5.3h-5.3zM126.6 167.5l2.6 5.3h-5.3zM127.6 168.4l2.6 5.3h-5.3zM128.6 166.9l2.6 5.3h-5.3zM129.7 167.7l2.6 5.3h-5.3zM130.7 165.4l2.6 5.3h-5.3zM131.8 164.3l2.6 5.3h-5.3zM132.8 163.3l2.6 5.3h-5.3zM133.8 162.8l2.6 5.3h-5.3zM134.8 162.6l2.6 5.3h-5.3zM135.8 160.7l2.6 5.3h-5.3zM136.8 161l2.6 5.3h-5.3zM137.8 159.3l2.6 5.3h-5.3zM138.9 157.8l2.6 5.3h-5.3zM139.9 158.7l2.6 5.3h-5.3zM141 154.3l2.6 5.3h-5.3zM142.1 154.8l2.6 5.3h-5.3zM143.2 150.9l2.6 5.3h-5.3zM144.2 147.5l2.6 5.3h-5.3zM145.3 145.2l2.6 5.3h-5.3zM146.4 145.6l2.6 5.3h-5.3zM147.6 140.9l2.6 5.3h-5.3zM148.7 138.3l2.6 5.3h-5.3zM149.8 138l2.6 5.3h-5.3zM150.9 136l2.6 5.3h-5.3zM152 135.9l2.6 5.3h-5.3zM153.1 137.1l2.6 5.3h-5.3zM154.1 138.1l2.6 5.3h-5.3zM155.1 138.8l2.6 5.3h-5.3zM156.2 138.3l2.6 5.3h-5.3zM157.3 140.3l2.6 5.3h-5.3zM158.5 143.4l2.6 5.3h-5.3zM159.6 144.3l2.6 5.3h-5.3zM160.4 161.3l2.6 5.3h-5.3zM161.2 122.8l2.6 5.3h-5.3zM162.5 118.7l2.6 5.3h-5.3zM163.8 116.1l2.6 5.3h-5.3zM165.4 107.8l2.6 5.3h-5.3zM164.6 85.3l2.6 5.3h-5.3zM165.8 83l2.6 5.3h-5.3zM167 80.3l2.6 5.3h-5.3zM168 74.4l2.6 5.3h-5.3zM169 69.3l2.6 5.3h-5.3zM170 69.6l2.6 5.3h-5.3zM171 68l2.6 5.3h-5.3zM172 67.5l2.6 5.3h-5.3zM173 67.8l2.6 5.3h-5.3zM174.7 77.3l2.6 5.3h-5.3zM176.3 68.3l2.6 5.3h-5.3zM177.4 68.5l2.6 5.3h-5.3zM178.4 68.1l2.6 5.3h-5.3zM179.4 69.3l2.6 5.3h-5.3zM180.5 67.8l2.6 5.3h-5.3zM181.5 66.7l2.6 5.3h-5.3zM182.5 63.4l2.6 5.3h-5.3zM183.6 59.3l2.6 5.3h-5.3zM184.6 51.4l2.6 5.3h-5.3zM186.2 59.4l2.6 5.3h-5.3zM188 68.3l2.6 5.3h-5.3zM191.4 115.8l2.6 5.3h-5.3zM192.3 102l2.6 5.3h-5.3zM193 112.3l2.6 5.3h-5.3zM194.8 120.1l2.6 5.3h-5.3zM195.9 124.5l2.6 5.3h-5.3zM196.9 127.4l2.6 5.3h-5.3zM198 128.3l2.6 5.3h-5.3zM199.2 132.4l2.6 5.3h-5.3zM200.3 132.3l2.6 5.3h-5.3zM201.5 133.3l2.6 5.3h-5.3zM202.6 132.7l2.6 5.3h-5.3zM203.7 134.1l2.6 5.3h-5.3zM204.8 130.3l2.6 5.3h-5.3zM205.9 135.3l2.6 5.3h-5.3zM206.7 143.3l2.6 5.3h-5.3zM207.8 146.4l2.6 5.3h-5.3zM208.9 151.8l2.6 5.3h-5.3zM210 153.3l2.6 5.3h-5.3zM211.1 157l2.6 5.3h-5.3zM212.1 157.1l2.6 5.3h-5.3zM213.1 162.1l2.6 5.3h-5.3zM214.2 162l2.6 5.3h-5.3zM215.5 159.5l2.6 5.3h-5.3zM216.8 152l2.6 5.3h-5.3zM218.4 143.7l2.6 5.3h-5.3zM219.7 156.9l2.6 5.3h-5.3zM221 167.2l2.6 5.3h-5.3zM221.8 131.9l2.6 5.3h-5.3zM222.9 134.1l2.6 5.3h-5.3zM223.9 134.6l2.6 5.3h-5.3zM225 132.8l2.6 5.3h-5.3zM226.2 131.9l2.6 5.3h-5.3zM227.3 132.7l2.6 5.3h-5.3zM228.5 131l2.6 5.3h-5.3zM229.8 127.5l2.6 5.3h-5.3zM231 121.8l2.6 5.3h-5.3zM232.7 116.8l2.6 5.3h-5.3zM233.8 124l2.6 5.3h-5.3zM234.9 128.9l2.6 5.3h-5.3zM236 131.8l2.6 5.3h-5.3zM236.9 117.3l2.6 5.3h-5.3zM238 118.8l2.6 5.3h-5.3zM239.1 117.2l2.6 5.3h-5.3zM240.2 115.1l2.6 5.3h-5.3zM241.3 117l2.6 5.3h-5.3zM242.5 115.6l2.6 5.3h-5.3zM243.6 113.3l2.6 5.3h-5.3zM244.7 116.2l2.6 5.3h-5.3zM245.8 115.7l2.6 5.3h-5.3zM246.9 116.8l2.6 5.3h-5.3zM247.9 113.1l2.6 5.3h-5.3zM249 110.4l2.6 5.3h-5.3zM250 107.6l2.6 5.3h-5.3zM251 113l2.6 5.3h-5.3zM252 117.3l2.6 5.3h-5.3zM253.2 113.7l2.6 5.3h-5.3zM254.5 110.9l2.6 5.3h-5.3zM255.8 117.8l2.6 5.3h-5.3zM257 120.1l2.6 5.3h-5.3zM257.8 126.8l2.6 5.3h-5.3zM258.3 141.9l2.6 5.3h-5.3zM258.7 158.3l2.6 5.3h-5.3zM259.9 165.3l2.6 5.3h-5.3zM261.2 169.8l2.6 5.3h-5.3zM262 143.3l2.6 5.3h-5.3zM263.2 146.7l2.6 5.3h-5.3zM264.5 147l2.6 5.3h-5.3zM266.2 160.3l2.6 5.3h-5.3zM267.2 160.6l2.6 5.3h-5.3zM268.3 159.5l2.6 5.3h-5.3zM269.3 157.6l2.6 5.3h-5.3zM270.4 155.3l2.6 5.3h-5.3zM271.5 155.1l2.6 5.3h-5.3zM272.6 158.6l2.6 5.3h-5.3zM273.7 157l2.6 5.3h-5.3zM274.7 158.4l2.6 5.3h-5.3zM275.7 157.1l2.6 5.3h-5.3zM276.8 156.7l2.6 5.3h-5.3zM277.8 156.6l2.6 5.3h-5.3zM278.8 154.5l2.6 5.3h-5.3zM279.8 154.1l2.6 5.3h-5.3zM280.8 156.7l2.6 5.3h-5.3zM281.8 155.1l2.6 5.3h-5.3zM282.8 154.7l2.6 5.3h-5.3zM283.8 155.3l2.6 5.3h-5.3zM285.5 158.8l2.6 5.3h-5.3zM286.9 153.7l2.6 5.3h-5.3zM288.2 148.3l2.6 5.3h-5.3zM289.2 149.2l2.6 5.3h-5.3zM290.3 146.3l2.6 5.3h-5.3zM291.3 147.2l2.6 5.3h-5.3zM292.4 144.3l2.6 5.3h-5.3zM293.6 157.6l2.6 5.3h-5.3zM294.9 165.3l2.6 5.3h-5.3zM300.2 171.3l2.6 5.3h-5.3zM300.8 135.9l2.6 5.3h-5.3zM301.6 147.7l2.6 5.3h-5.3zM303.3 154.3l2.6 5.3h-5.3zM304.6 157.8l2.6 5.3h-5.3zM305.8 159.3l2.6 5.3h-5.3zM306.9 160.5l2.6 5.3h-5.3zM307.9 161.4l2.6 5.3h-5.3zM309 161l2.6 5.3h-5.3zM310.4 163.6l2.6 5.3h-5.3zM311.7 162.8l2.6 5.3h-5.3zM313.3 152.8l2.6 5.3h-5.3zM314.6 151.4l2.6 5.3h-5.3zM315.8 146l2.6 5.3h-5.3zM317.1 144.9l2.6 5.3h-5.3zM318.4 140.9l2.6 5.3h-5.3zM319.5 139.7l2.6 5.3h-5.3zM320.6 134.8l2.6 5.3h-5.3zM321.7 132.5l2.6 5.3h-5.3zM322.9 131.5l2.6 5.3h-5.3zM324.2 130.9l2.6 5.3h-5.3zM325.6 169.3l2.6 5.3h-5.3zM334 163.3l2.6 5.3h-5.3zM334.3 149.3l2.6 5.3h-5.3zM336 154.3l2.6 5.3h-5.3zM337.1 154.2l2.6 5.3h-5.3zM338.2 155.7l2.6 5.3h-5.3zM339.3 153.5l2.6 5.3h-5.3zM340.4 153.6l2.6 5.3h-5.3zM341.6 154.3l2.6 5.3h-5.3zM342.7 152.8l2.6 5.3h-5.3zM343.7 152.2l2.6 5.3h-5.3zM344.8 152.6l2.6 5.3h-5.3zM345.8 153.5l2.6 5.3h-5.3zM346.8 153.5l2.6 5.3h-5.3zM347.9 156l2.6 5.3h-5.3zM348.9 156.9l2.6 5.3h-5.3zM349.9 157.7l2.6 5.3h-5.3zM351 156.9l2.6 5.3h-5.3zM352.7 144.3l2.6 5.3h-5.3zM353.8 142.1l2.6 5.3h-5.3zM354.9 140.3l2.6 5.3h-5.3zM356 136.8l2.6 5.3h-5.3zM357.3 139.7l2.6 5.3h-5.3zM358.6 140.9l2.6 5.3h-5.3zM359.7 144.3l2.6 5.3h-5.3zM360.9 145.5l2.6 5.3h-5.3zM362 148.3l2.6 5.3h-5.3zM363 150.1l2.6 5.3h-5.3zM364 147l2.6 5.3h-5.3zM365 149.2l2.6 5.3h-5.3zM366 148.4l2.6 5.3h-5.3zM367 145.2l2.6 5.3h-5.3zM368.1 143.8l2.6 5.3h-5.3zM369.2 144.8l2.6 5.3h-5.3zM370.3 145.4l2.6 5.3h-5.3zM371.4 142.7l2.6 5.3h-5.3zM372.4 146.8l2.6 5.3h-5.3zM373.4 146.5l2.6 5.3h-5.3zM374.4 147.3l2.6 5.3h-5.3zM375.4 148.6l2.6 5.3h-5.3zM376.4 150.2l2.6 5.3h-5.3zM377.4 153l2.6 5.3h-5.3zM378.5 150.6l2.6 5.3h-5.3zM379.6 152.1l2.6 5.3h-5.3zM380.6 151l2.6 5.3h-5.3zM382.2 160.3l2.6 5.3h-5.3zM382.7 138.3l2.6 5.3h-5.3zM383.4 157.3l2.6 5.3h-5.3zM384 161l2.6 5.3h-5.3zM400.3 171.3l2.6 5.3h-5.3zM400.7 157.8l2.6 5.3h-5.3zM402.4 151.8l2.6 5.3h-5.3zM403.4 150.7l2.6 5.3h-5.3zM404.4 151.3l2.6 5.3h-5.3zM405.4 152l2.6 5.3h-5.3zM406.4 148.2l2.6 5.3h-5.3zM407.4 147.7l2.6 5.3h-5.3zM408.4 150.9l2.6 5.3h-5.3zM409.5 150.8l2.6 5.3h-5.3zM410.6 153.2l2.6 5.3h-5.3zM411.6 151.8l2.6 5.3h-5.3zM412.7 154.1l2.6 5.3h-5.3zM413.9 153l2.6 5.3h-5.3zM415 153.5l2.6 5.3h-5.3zM416.1 154.6l2.6 5.3h-5.3zM417.2 151.7l2.6 5.3h-5.3zM418.3 149.3l2.6 5.3h-5.3zM419.4 146.1l2.6 5.3h-5.3zM420.4 143.6l2.6 5.3h-5.3zM421.4 142.8l2.6 5.3h-5.3zM422.5 139.3l2.6 5.3h-5.3zM423.6 142.7l2.6 5.3h-5.3zM424.7 144.6l2.6 5.3h-5.3zM425.8 146.8l2.6 5.3h-5.3zM426.9 149.6l2.6 5.3h-5.3zM428.1 153.4l2.6 5.3h-5.3zM429.2 156l2.6 5.3h-5.3zM430.2 155.6l2.6 5.3h-5.3zM431.3 156.6l2.6 5.3h-5.3zM432.3 152.8l2.6 5.3h-5.3zM433.4 152.8l2.6 5.3h-5.3zM434.4 152.1l2.6 5.3h-5.3zM435.4 149.9l2.6 5.3h-5.3zM436.5 144.8l2.6 5.3h-5.3zM437.5 142.7l2.6 5.3h-5.3zM438.8 143l2.6 5.3h-5.3zM440.1 140l2.6 5.3h-5.3zM441.4 135.9l2.6 5.3h-5.3zM442.6 141.2l2.6 5.3h-5.3zM443.8 141.8l2.6 5.3h-5.3zM445 144.3l2.6 5.3h-5.3z" fill="#3C82F5" stroke="none"/>
<path d="M40 24 L40.6 54 L42 122 L43 129 L44 138.6 L46 143.6 L48.6 135 L51 129 L53.6 122" fill="none" stroke="#40D0F5" stroke-width="1.2" stroke-linejoin="round"/>
<path d="M56.6 24 L57.6 24.5 L59 34.8 L60 62 L60.8 89 L61.3 118 L61.8 135 L62.3 140 L63.7 134.4 L67 128.5 L72 121.8 L75.4 110 L79.6 100 L81.2 96 L83 85 L86 76.7 L93 63 L101 50 L104.7 44.8 L109.7 45 L114.8 39.8 L117.5 39.5" fill="none" stroke="#40D0F5" stroke-width="1.2" stroke-linejoin="round"/>
<path d="M121.9 69 L122.4 115 L122.8 132 L124 143.6 L126 143.6 L128.6 132.7 L130.2 116 L132 101 L136 98.4 L137 91.7 L137.8 80 L139.5 74 L140.8 64 L141.2 49 L143.7 51.5 L145.3 44 L147.8 38 L151.2 29.7 L154.5 28.9 L158.7 34.8 L162 25.5 L164.6 30.6 L169.6 26.4 L179.7 25.5 L188 28.9 L191.4 24.7 L196.4 28.9 L204.8 30.6 L208.4 29 L212.6 36.4 L216.8 32 L222.6 25.5 L227.7 33 L232.7 42.3 L236 31.4 L242 25.5 L248.6 26.4 L255.3 36.4 L259.5 34 L262 28 L266.2 41.5 L268.7 27.2 L272 33 L277 40.6 L280.4 30.6 L283.8 34.8 L288.2 30.6 L291.5 43 L294.9 52.4" fill="none" stroke="#40D0F5" stroke-width="1.2" stroke-linejoin="round"/>
<path d="M300.8 24.7 L301.6 77.5 L303.3 46.5 L304 57.4 L305 85.9 L306.6 107.5 L309 96.8 L310 85 L311.7 73.3 L313.3 63.2 L315 55.7 L318.4 54 L320 43 L322.5 34.8 L325 25.5" fill="none" stroke="#40D0F5" stroke-width="1.2" stroke-linejoin="round"/>
<path d="M333.4 28.9 L334.3 71.6 L336 24.7 L336.8 49.8 L337.6 79 L339.3 63 L341.8 70 L342.7 63 L343 49.8 L345.2 39.8 L347.7 48 L351 46.5 L353.5 40.6 L357.7 34 L361 29.7 L364.4 34.8 L367.8 29 L372.2 34 L376.4 29 L381.4 27.2 L384.8 24" fill="none" stroke="#40D0F5" stroke-width="1.2" stroke-linejoin="round"/>
<path d="M398.8 25.5 L399.6 25.5 L400.2 143.6 L400.6 36.4 L402.4 59 L403.2 77.5 L406.5 81.7 L411.6 77.5 L412.4 62.4 L415 56.5 L416.6 39.8 L419 34 L423.3 29.7 L430 28 L438.4 26.4 L445 25.5" fill="none" stroke="#40D0F5" stroke-width="1.2" stroke-linejoin="round"/>
<path d="M37.6 21.6h4.7v4.7h-4.7zM38.2 51.6h4.7v4.7h-4.7zM39.6 119.7h4.7v4.7h-4.7zM40.6 126.7h4.7v4.7h-4.7zM41.6 136.2h4.7v4.7h-4.7zM42.6 138.4h4.7v4.7h-4.7zM43.6 141.2h4.7v4.7h-4.7zM44.5 138.1h4.7v4.7h-4.7zM45.4 136.9h4.7v4.7h-4.7zM46.2 132.7h4.7v4.7h-4.7zM47.4 129.9h4.7v4.7h-4.7zM48.6 126.7h4.7v4.7h-4.7zM49.5 123.9h4.7v4.7h-4.7zM50.4 121.8h4.7v4.7h-4.7zM51.2 119.7h4.7v4.7h-4.7zM54.2 21.6h4.7v4.7h-4.7zM55.2 22.1h4.7v4.7h-4.7zM56.6 32.4h4.7v4.7h-4.7zM57.6 59.6h4.7v4.7h-4.7zM58.4 86.7h4.7v4.7h-4.7zM58.9 115.7h4.7v4.7h-4.7zM59.4 132.7h4.7v4.7h-4.7zM59.9 137.7h4.7v4.7h-4.7zM61.4 132.1h4.7v4.7h-4.7zM62.2 129.9h4.7v4.7h-4.7zM63 127.8h4.7v4.7h-4.7zM63.8 126.5h4.7v4.7h-4.7zM64.7 126.2h4.7v4.7h-4.7zM65.5 126h4.7v4.7h-4.7zM66.3 123.3h4.7v4.7h-4.7zM67.2 124h4.7v4.7h-4.7zM68 121h4.7v4.7h-4.7zM68.8 119.9h4.7v4.7h-4.7zM69.7 119.5h4.7v4.7h-4.7zM70.5 116.5h4.7v4.7h-4.7zM71.4 112.7h4.7v4.7h-4.7zM72.2 110.2h4.7v4.7h-4.7zM73.1 107.7h4.7v4.7h-4.7zM73.9 106.9h4.7v4.7h-4.7zM74.7 104.7h4.7v4.7h-4.7zM75.6 102.5h4.7v4.7h-4.7zM76.4 100h4.7v4.7h-4.7zM77.2 97.7h4.7v4.7h-4.7zM78.1 96.8h4.7v4.7h-4.7zM78.9 93.7h4.7v4.7h-4.7zM79.8 89.4h4.7v4.7h-4.7zM80.7 82.7h4.7v4.7h-4.7zM81.7 80h4.7v4.7h-4.7zM82.7 77.7h4.7v4.7h-4.7zM83.7 74.4h4.7v4.7h-4.7zM84.5 71.4h4.7v4.7h-4.7zM85.4 71.6h4.7v4.7h-4.7zM86.3 69.1h4.7v4.7h-4.7zM87.2 68.2h4.7v4.7h-4.7zM88 66.2h4.7v4.7h-4.7zM88.9 63.5h4.7v4.7h-4.7zM89.8 61.1h4.7v4.7h-4.7zM90.7 60.6h4.7v4.7h-4.7zM91.5 60.5h4.7v4.7h-4.7zM92.2 57h4.7v4.7h-4.7zM93.1 56.7h4.7v4.7h-4.7zM93.9 55h4.7v4.7h-4.7zM94.7 53.6h4.7v4.7h-4.7zM95.5 53.5h4.7v4.7h-4.7zM96.2 52.9h4.7v4.7h-4.7zM97.1 49.6h4.7v4.7h-4.7zM97.9 49.4h4.7v4.7h-4.7zM98.7 47.6h4.7v4.7h-4.7zM99.6 45.8h4.7v4.7h-4.7zM100.5 45.2h4.7v4.7h-4.7zM101.4 43.5h4.7v4.7h-4.7zM102.4 42.4h4.7v4.7h-4.7zM103.2 41.6h4.7v4.7h-4.7zM104 41.6h4.7v4.7h-4.7zM104.9 41.7h4.7v4.7h-4.7zM105.7 43.7h4.7v4.7h-4.7zM106.5 42.6h4.7v4.7h-4.7zM107.4 42.6h4.7v4.7h-4.7zM108.2 41h4.7v4.7h-4.7zM109.1 42.1h4.7v4.7h-4.7zM109.9 41.4h4.7v4.7h-4.7zM110.8 39h4.7v4.7h-4.7zM111.6 37.3h4.7v4.7h-4.7zM112.5 37.4h4.7v4.7h-4.7zM113.4 36.5h4.7v4.7h-4.7zM114.2 36.1h4.7v4.7h-4.7zM115.2 37.1h4.7v4.7h-4.7zM119.6 66.7h4.7v4.7h-4.7zM120.1 112.7h4.7v4.7h-4.7zM120.5 129.7h4.7v4.7h-4.7zM121.7 141.2h4.7v4.7h-4.7zM122.7 140.8h4.7v4.7h-4.7zM123.7 141.2h4.7v4.7h-4.7zM124.5 136.5h4.7v4.7h-4.7zM125.4 133.3h4.7v4.7h-4.7zM126.2 130.3h4.7v4.7h-4.7zM127.8 113.7h4.7v4.7h-4.7zM128.8 105.5h4.7v4.7h-4.7zM129.7 98.7h4.7v4.7h-4.7zM130.5 98.3h4.7v4.7h-4.7zM131.2 98.7h4.7v4.7h-4.7zM132.1 97.8h4.7v4.7h-4.7zM132.8 96.3h4.7v4.7h-4.7zM133.7 96.1h4.7v4.7h-4.7zM134.7 89.4h4.7v4.7h-4.7zM135.5 77.7h4.7v4.7h-4.7zM136.3 74.4h4.7v4.7h-4.7zM137.2 71.7h4.7v4.7h-4.7zM138.5 61.6h4.7v4.7h-4.7zM138.8 46.6h4.7v4.7h-4.7zM139.7 47.6h4.7v4.7h-4.7zM140.5 48h4.7v4.7h-4.7zM141.3 49.1h4.7v4.7h-4.7zM142.2 44.9h4.7v4.7h-4.7zM143 41.6h4.7v4.7h-4.7zM143.8 38.4h4.7v4.7h-4.7zM144.6 37h4.7v4.7h-4.7zM145.5 35.6h4.7v4.7h-4.7zM146.3 34.9h4.7v4.7h-4.7zM147.2 30.5h4.7v4.7h-4.7zM148 29.4h4.7v4.7h-4.7zM148.8 27.3h4.7v4.7h-4.7zM149.7 27.5h4.7v4.7h-4.7zM150.5 28h4.7v4.7h-4.7zM151.3 26h4.7v4.7h-4.7zM152.2 26.5h4.7v4.7h-4.7zM153 27.1h4.7v4.7h-4.7zM153.8 28.2h4.7v4.7h-4.7zM154.7 29.8h4.7v4.7h-4.7zM155.5 31.1h4.7v4.7h-4.7zM156.3 32.4h4.7v4.7h-4.7zM157.2 31.4h4.7v4.7h-4.7zM158 28.8h4.7v4.7h-4.7zM158.8 26.5h4.7v4.7h-4.7zM159.7 23.1h4.7v4.7h-4.7zM160.5 23.5h4.7v4.7h-4.7zM161.4 25.2h4.7v4.7h-4.7zM162.2 28.2h4.7v4.7h-4.7zM163.1 28.1h4.7v4.7h-4.7zM163.9 28h4.7v4.7h-4.7zM164.8 26.1h4.7v4.7h-4.7zM165.6 25.7h4.7v4.7h-4.7zM166.4 23.4h4.7v4.7h-4.7zM167.2 24h4.7v4.7h-4.7zM168.1 23.7h4.7v4.7h-4.7zM168.9 25.1h4.7v4.7h-4.7zM169.8 24.7h4.7v4.7h-4.7zM170.6 24.7h4.7v4.7h-4.7zM171.5 25h4.7v4.7h-4.7zM172.3 22.9h4.7v4.7h-4.7zM173.1 22.4h4.7v4.7h-4.7zM174 22.5h4.7v4.7h-4.7zM174.8 23.4h4.7v4.7h-4.7zM175.7 23.8h4.7v4.7h-4.7zM176.5 24.5h4.7v4.7h-4.7zM177.3 23.1h4.7v4.7h-4.7zM178.2 24.1h4.7v4.7h-4.7zM179 24.2h4.7v4.7h-4.7zM179.8 24.9h4.7v4.7h-4.7zM180.7 24.4h4.7v4.7h-4.7zM181.5 25h4.7v4.7h-4.7zM182.3 23.9h4.7v4.7h-4.7zM183.2 26.3h4.7v4.7h-4.7zM184 25.1h4.7v4.7h-4.7zM184.8 27.4h4.7v4.7h-4.7zM185.7 26.5h4.7v4.7h-4.7zM186.5 25.9h4.7v4.7h-4.7zM187.3 23.9h4.7v4.7h-4.7zM188.2 22.4h4.7v4.7h-4.7zM189.1 22.3h4.7v4.7h-4.7zM189.9 22.4h4.7v4.7h-4.7zM190.7 24.1h4.7v4.7h-4.7zM191.6 25h4.7v4.7h-4.7zM192.4 24.1h4.7v4.7h-4.7zM193.2 24.6h4.7v4.7h-4.7zM194.1 26.5h4.7v4.7h-4.7zM194.9 26.8h4.7v4.7h-4.7zM195.7 27.1h4.7v4.7h-4.7zM196.6 26.7h4.7v4.7h-4.7zM197.4 26.5h4.7v4.7h-4.7zM198.3 27.7h4.7v4.7h-4.7zM199.1 26.2h4.7v4.7h-4.7zM199.9 27.2h4.7v4.7h-4.7zM200.8 27.8h4.7v4.7h-4.7zM201.6 29.4h4.7v4.7h-4.7zM202.5 28.2h4.7v4.7h-4.7zM203.4 28.3h4.7v4.7h-4.7zM204.3 28.5h4.7v4.7h-4.7zM205.2 27h4.7v4.7h-4.7zM206.1 26.6h4.7v4.7h-4.7zM206.9 27.4h4.7v4.7h-4.7zM207.7 28.9h4.7v4.7h-4.7zM208.6 32.4h4.7v4.7h-4.7zM209.4 33.1h4.7v4.7h-4.7zM210.2 34h4.7v4.7h-4.7zM211.1 32.6h4.7v4.7h-4.7zM211.9 31h4.7v4.7h-4.7zM212.8 31.4h4.7v4.7h-4.7zM213.6 31h4.7v4.7h-4.7zM214.5 29.6h4.7v4.7h-4.7zM215.3 28.5h4.7v4.7h-4.7zM216.1 27.1h4.7v4.7h-4.7zM216.9 27.3h4.7v4.7h-4.7zM217.8 27.1h4.7v4.7h-4.7zM218.6 24.2h4.7v4.7h-4.7zM219.4 22.8h4.7v4.7h-4.7zM220.2 23.1h4.7v4.7h-4.7zM221.1 23.9h4.7v4.7h-4.7zM221.9 25.4h4.7v4.7h-4.7zM222.8 27.4h4.7v4.7h-4.7zM223.7 27.3h4.7v4.7h-4.7zM224.5 30.2h4.7v4.7h-4.7zM225.3 30.6h4.7v4.7h-4.7zM226.2 32.9h4.7v4.7h-4.7zM227 33.8h4.7v4.7h-4.7zM227.8 34.5h4.7v4.7h-4.7zM228.7 38.2h4.7v4.7h-4.7zM229.5 37.9h4.7v4.7h-4.7zM230.3 39.9h4.7v4.7h-4.7zM231.2 38.1h4.7v4.7h-4.7zM232 33.7h4.7v4.7h-4.7zM232.8 31h4.7v4.7h-4.7zM233.7 29h4.7v4.7h-4.7zM234.5 28.9h4.7v4.7h-4.7zM235.4 26.8h4.7v4.7h-4.7zM236.2 27.8h4.7v4.7h-4.7zM237.1 25.7h4.7v4.7h-4.7zM237.9 24h4.7v4.7h-4.7zM238.8 23.2h4.7v4.7h-4.7zM239.7 23.1h4.7v4.7h-4.7zM240.5 23h4.7v4.7h-4.7zM241.3 23.8h4.7v4.7h-4.7zM242.1 24.7h4.7v4.7h-4.7zM243 22.6h4.7v4.7h-4.7zM243.8 23.4h4.7v4.7h-4.7zM244.6 23h4.7v4.7h-4.7zM245.4 25.3h4.7v4.7h-4.7zM246.2 24h4.7v4.7h-4.7zM247.1 24.3h4.7v4.7h-4.7zM247.9 25.3h4.7v4.7h-4.7zM248.8 26.6h4.7v4.7h-4.7zM249.6 28.8h4.7v4.7h-4.7zM250.4 31.4h4.7v4.7h-4.7zM251.3 32.6h4.7v4.7h-4.7zM252.1 33.5h4.7v4.7h-4.7zM253 34h4.7v4.7h-4.7zM253.8 35h4.7v4.7h-4.7zM254.6 34.3h4.7v4.7h-4.7zM255.5 32.1h4.7v4.7h-4.7zM256.3 31.2h4.7v4.7h-4.7zM257.1 31.6h4.7v4.7h-4.7zM258 30.9h4.7v4.7h-4.7zM258.8 28.3h4.7v4.7h-4.7zM259.6 25.6h4.7v4.7h-4.7zM260.5 27h4.7v4.7h-4.7zM261.3 31.5h4.7v4.7h-4.7zM262.2 33.4h4.7v4.7h-4.7zM263 36.1h4.7v4.7h-4.7zM263.8 39.1h4.7v4.7h-4.7zM264.7 33.9h4.7v4.7h-4.7zM265.5 28.7h4.7v4.7h-4.7zM266.3 24.8h4.7v4.7h-4.7zM267.2 24.9h4.7v4.7h-4.7zM268 27.1h4.7v4.7h-4.7zM268.8 28.8h4.7v4.7h-4.7zM269.6 30.6h4.7v4.7h-4.7zM270.5 33.2h4.7v4.7h-4.7zM271.3 32.1h4.7v4.7h-4.7zM272.1 35.7h4.7v4.7h-4.7zM273 34.9h4.7v4.7h-4.7zM273.8 36.6h4.7v4.7h-4.7zM274.6 38.2h4.7v4.7h-4.7zM275.5 36.7h4.7v4.7h-4.7zM276.3 34.2h4.7v4.7h-4.7zM277.2 30.6h4.7v4.7h-4.7zM278 28.2h4.7v4.7h-4.7zM278.9 28h4.7v4.7h-4.7zM279.8 30.3h4.7v4.7h-4.7zM280.6 31h4.7v4.7h-4.7zM281.4 32.4h4.7v4.7h-4.7zM282.3 32.8h4.7v4.7h-4.7zM283.2 29.9h4.7v4.7h-4.7zM284.1 29.5h4.7v4.7h-4.7zM285 30.2h4.7v4.7h-4.7zM285.8 28.2h4.7v4.7h-4.7zM286.7 30h4.7v4.7h-4.7zM287.5 34.2h4.7v4.7h-4.7zM288.3 38.4h4.7v4.7h-4.7zM289.1 40.6h4.7v4.7h-4.7zM290 43.7h4.7v4.7h-4.7zM290.8 44.1h4.7v4.7h-4.7zM291.7 46.4h4.7v4.7h-4.7zM292.5 50h4.7v4.7h-4.7zM298.4 22.3h4.7v4.7h-4.7zM299.2 75.2h4.7v4.7h-4.7zM300.1 58.4h4.7v4.7h-4.7zM300.9 44.1h4.7v4.7h-4.7zM301.6 55h4.7v4.7h-4.7zM302.6 83.6h4.7v4.7h-4.7zM303.4 95.5h4.7v4.7h-4.7zM304.2 105.2h4.7v4.7h-4.7zM305.4 99.1h4.7v4.7h-4.7zM306.6 94.5h4.7v4.7h-4.7zM307.6 82.7h4.7v4.7h-4.7zM308.5 77.5h4.7v4.7h-4.7zM309.3 71h4.7v4.7h-4.7zM310.1 67h4.7v4.7h-4.7zM310.9 60.9h4.7v4.7h-4.7zM311.8 56.6h4.7v4.7h-4.7zM312.6 53.4h4.7v4.7h-4.7zM313.5 52.3h4.7v4.7h-4.7zM314.3 53.8h4.7v4.7h-4.7zM315.2 52.4h4.7v4.7h-4.7zM316 51.6h4.7v4.7h-4.7zM316.8 45.5h4.7v4.7h-4.7zM317.6 40.6h4.7v4.7h-4.7zM318.5 38.5h4.7v4.7h-4.7zM319.3 34.7h4.7v4.7h-4.7zM320.1 32.4h4.7v4.7h-4.7zM321 28.7h4.7v4.7h-4.7zM321.8 24.9h4.7v4.7h-4.7zM322.6 23.1h4.7v4.7h-4.7zM331 26.5h4.7v4.7h-4.7zM331.9 69.2h4.7v4.7h-4.7zM332.8 46.5h4.7v4.7h-4.7zM333.6 22.3h4.7v4.7h-4.7zM334.4 47.4h4.7v4.7h-4.7zM335.2 76.7h4.7v4.7h-4.7zM336.1 69.8h4.7v4.7h-4.7zM336.9 60.6h4.7v4.7h-4.7zM337.8 63.4h4.7v4.7h-4.7zM338.6 66.6h4.7v4.7h-4.7zM339.4 67.7h4.7v4.7h-4.7zM340.3 60.6h4.7v4.7h-4.7zM340.6 47.4h4.7v4.7h-4.7zM341.8 41.1h4.7v4.7h-4.7zM342.8 37.4h4.7v4.7h-4.7zM343.7 39.4h4.7v4.7h-4.7zM344.5 42.8h4.7v4.7h-4.7zM345.3 45.6h4.7v4.7h-4.7zM346.2 46.6h4.7v4.7h-4.7zM347 46.2h4.7v4.7h-4.7zM347.8 44.2h4.7v4.7h-4.7zM348.6 44.1h4.7v4.7h-4.7zM349.5 41.5h4.7v4.7h-4.7zM350.3 40h4.7v4.7h-4.7zM351.1 38.2h4.7v4.7h-4.7zM352 36.9h4.7v4.7h-4.7zM352.8 36.8h4.7v4.7h-4.7zM353.7 33.4h4.7v4.7h-4.7zM354.5 33.8h4.7v4.7h-4.7zM355.3 31.6h4.7v4.7h-4.7zM356.2 31.2h4.7v4.7h-4.7zM357 30.4h4.7v4.7h-4.7zM357.8 29.2h4.7v4.7h-4.7zM358.6 27.3h4.7v4.7h-4.7zM359.5 28.9h4.7v4.7h-4.7zM360.3 29.4h4.7v4.7h-4.7zM361.2 30.7h4.7v4.7h-4.7zM362 32.4h4.7v4.7h-4.7zM362.9 30.6h4.7v4.7h-4.7zM363.8 30.3h4.7v4.7h-4.7zM364.6 26.9h4.7v4.7h-4.7zM365.4 26.6h4.7v4.7h-4.7zM366.3 26.8h4.7v4.7h-4.7zM367.2 29.4h4.7v4.7h-4.7zM368.1 28.9h4.7v4.7h-4.7zM369 29.4h4.7v4.7h-4.7zM369.8 31.6h4.7v4.7h-4.7zM370.7 29.3h4.7v4.7h-4.7zM371.5 29.8h4.7v4.7h-4.7zM372.4 28.2h4.7v4.7h-4.7zM373.2 29h4.7v4.7h-4.7zM374 26.6h4.7v4.7h-4.7zM374.9 27.4h4.7v4.7h-4.7zM375.7 27.4h4.7v4.7h-4.7zM376.5 25.1h4.7v4.7h-4.7zM377.4 24.3h4.7v4.7h-4.7zM378.2 24h4.7v4.7h-4.7zM379 24.8h4.7v4.7h-4.7zM379.9 24h4.7v4.7h-4.7zM380.8 23.8h4.7v4.7h-4.7zM381.6 22.3h4.7v4.7h-4.7zM382.4 21.6h4.7v4.7h-4.7zM396.4 23.1h4.7v4.7h-4.7zM397.2 23.1h4.7v4.7h-4.7zM397.8 141.2h4.7v4.7h-4.7zM398.2 34h4.7v4.7h-4.7zM399.1 44.6h4.7v4.7h-4.7zM400 56.6h4.7v4.7h-4.7zM400.8 75.2h4.7v4.7h-4.7zM401.7 76h4.7v4.7h-4.7zM402.5 77.6h4.7v4.7h-4.7zM403.3 78.8h4.7v4.7h-4.7zM404.1 79.4h4.7v4.7h-4.7zM405 79.3h4.7v4.7h-4.7zM405.8 78.9h4.7v4.7h-4.7zM406.7 77.7h4.7v4.7h-4.7zM407.6 75.5h4.7v4.7h-4.7zM408.4 76.8h4.7v4.7h-4.7zM409.2 75.2h4.7v4.7h-4.7zM410 60h4.7v4.7h-4.7zM410.9 57.5h4.7v4.7h-4.7zM411.8 56.3h4.7v4.7h-4.7zM412.6 54.1h4.7v4.7h-4.7zM413.4 45.4h4.7v4.7h-4.7zM414.2 37.4h4.7v4.7h-4.7zM415.4 35.2h4.7v4.7h-4.7zM416.6 31.6h4.7v4.7h-4.7zM417.5 29.9h4.7v4.7h-4.7zM418.4 29.2h4.7v4.7h-4.7zM419.2 28.4h4.7v4.7h-4.7zM420.1 27.2h4.7v4.7h-4.7zM420.9 27.3h4.7v4.7h-4.7zM421.8 28.2h4.7v4.7h-4.7zM422.6 27.1h4.7v4.7h-4.7zM423.5 26.2h4.7v4.7h-4.7zM424.3 26.2h4.7v4.7h-4.7zM425.1 27.7h4.7v4.7h-4.7zM426 26.1h4.7v4.7h-4.7zM426.8 25.1h4.7v4.7h-4.7zM427.6 25.6h4.7v4.7h-4.7zM428.5 26.4h4.7v4.7h-4.7zM429.3 25.8h4.7v4.7h-4.7zM430.2 26.5h4.7v4.7h-4.7zM431 23.9h4.7v4.7h-4.7zM431.8 24.8h4.7v4.7h-4.7zM432.7 25.6h4.7v4.7h-4.7zM433.5 25.5h4.7v4.7h-4.7zM434.4 25.5h4.7v4.7h-4.7zM435.2 22.9h4.7v4.7h-4.7zM436 24h4.7v4.7h-4.7zM436.9 23.4h4.7v4.7h-4.7zM437.7 22.8h4.7v4.7h-4.7zM438.5 22.8h4.7v4.7h-4.7zM439.3 24.9h4.7v4.7h-4.7zM440.2 23.7h4.7v4.7h-4.7zM441 24.6h4.7v4.7h-4.7zM441.8 22.9h4.7v4.7h-4.7zM442.6 23.1h4.7v4.7h-4.7z" fill="#40D0F5" stroke="none"/>
<g font-size="12" fill="#000" stroke="#000" stroke-width="0.18">
<text x="30.3" y="28.3" text-anchor="end">60</text>
<text x="30.3" y="53.4" text-anchor="end">50</text>
<text x="30.3" y="78.5" text-anchor="end">40</text>
<text x="30.3" y="103.6" text-anchor="end">30</text>
<text x="30.3" y="128.7" text-anchor="end">20</text>
<text x="30.3" y="153.8" text-anchor="end">10</text>
<text x="30.3" y="178.9" text-anchor="end">0</text>
<text x="492.9" y="28.7">100</text>
<text x="492.9" y="58.8">80</text>
<text x="492.9" y="88.9">60</text>
<text x="492.9" y="119.1">40</text>
<text x="492.9" y="149.2">20</text>
<text x="492.9" y="179.3">0</text>
<text x="40" y="193.4" text-anchor="middle">6/18/2010</text>
<text x="128.7" y="193.4" text-anchor="middle">10/31/2011</text>
<text x="217.4" y="193.4" text-anchor="middle">3/14/2013</text>
<text x="306" y="193.4" text-anchor="middle">7/27/2014</text>
<text x="394.7" y="193.4" text-anchor="middle">12/9/2015</text>
<text x="483.4" y="193.4" text-anchor="middle">4/22/2017</text>
</g>
<g font-weight="bold" fill="#000" stroke="#000" stroke-width="0.15" text-anchor="middle">
<text x="263.6" y="207.8" font-size="13.1">Production date</text>
<text transform="translate(11.2 104.5) rotate(-90)" font-size="13.1">Daily production rate/m<tspan font-size="8.5" dy="-4.5">3</tspan><tspan dy="4.5">/d</tspan></text>
<text transform="translate(533.4 99.3) rotate(-90)" font-size="13.6">Water cut/%</text>
<g font-size="10.5">
<text x="78.8" y="8.7">Edge-water</text>
<text x="78" y="19.9">driving process</text>
<text x="260.6" y="14.8">CO<tspan font-size="6.2" dy="2.9">2</tspan><tspan dy="-2.9"> huff-n-puff process</tspan></text>
<text x="431" y="8">N<tspan font-size="6.2" dy="2.9">2</tspan><tspan dy="-2.9">-foam assisted</tspan></text>
<text x="432.3" y="19.6">CO<tspan font-size="6.2" dy="2.9">2</tspan><tspan dy="-2.9"> huff-n-puff process</tspan></text>
</g></g>
<circle cx="130.7" cy="62.9" r="5.1" fill="#fff" fill-opacity="0" stroke="#222" stroke-width="0.9"/>
<text x="130.7" y="66.2" font-size="9.6" text-anchor="middle" fill="#111">1</text>
<circle cx="310.8" cy="35.6" r="5.1" fill="#fff" fill-opacity="0" stroke="#222" stroke-width="0.9"/>
<text x="310.8" y="38.9" font-size="9.6" text-anchor="middle" fill="#111">2</text>
<circle cx="345.7" cy="30.6" r="5.1" fill="#fff" fill-opacity="0" stroke="#222" stroke-width="0.9"/>
<text x="345.7" y="33.9" font-size="9.6" text-anchor="middle" fill="#111">3</text>
<rect x="5.8" y="210.3" width="522.4" height="22" fill="none" stroke="#222" stroke-width="1.3"/>
<g font-size="12" fill="#000" stroke="#000" stroke-width="0.18">
<path d="M51.4 221.4 L77.3 221.4" fill="none" stroke="#78E628" stroke-width="1.1" stroke-linejoin="round"/>
<path d="M64.4 218.9l2.5 2.5l-2.5 2.5l-2.5 -2.5z" fill="#78E628" stroke="none"/>
<text x="80.6" y="225.4">Liquid rate</text>
<path d="M178.4 221.4 L203.4 221.4" fill="none" stroke="#C31E46" stroke-width="1.1" stroke-linejoin="round"/>
<path d="M188.8 219.2h4.4v4.4h-4.4z" fill="#C31E46" stroke="none"/>
<text x="206.4" y="225.4">Oil rate</text>
<path d="M288 221.4 L313 221.4" fill="none" stroke="#3C82F5" stroke-width="1.1" stroke-linejoin="round"/>
<path d="M300.4 218.9l2.5 5h-5z" fill="#3C82F5" stroke="none"/>
<text x="316.9" y="225.4">Water rate</text>
<path d="M411.5 221.4 L437 221.4" fill="none" stroke="#40D0F5" stroke-width="1.1" stroke-linejoin="round"/>
<path d="M422 219.2h4.4v4.4h-4.4z" fill="#40D0F5" stroke="none"/>
<text x="440" y="225.4">Water cut</text>
</g>
<text x="268.2" y="259" font-size="13.9" text-anchor="middle" fill="#000" stroke="#000" stroke-width="0.18"><tspan font-weight="bold">(a)</tspan> Daily production rate and water cut.</text>
<g stroke="#333" stroke-width="1.5" fill="none">
<path d="M40.2 299.6V448H481.3V299.6H39.6"/>
<path stroke-width="1" d="M40.2 299.6h3M40.2 336.7h3M40.2 373.8h3M40.2 410.9h3M40.2 448h3M481.3 299.6h-3.5M481.3 318.2h-3.5M481.3 336.7h-3.5M481.3 355.2h-3.5M481.3 373.8h-3.5M481.3 392.4h-3.5M481.3 410.9h-3.5M481.3 429.4h-3.5M481.3 448h-3.5M40.2 448v-3.5M128.4 448v-3.5M216.6 448v-3.5M304.9 448v-3.5M393.1 448v-3.5M481.3 448v-3.5"/>
</g>
<path d="M116.9 299.6V448M383.5 299.6V448" stroke="#111" stroke-width="1.4" stroke-dasharray="4.2 2.6" fill="none"/>
<path d="M41.5 428.8l2.6 2.6l-2.6 2.6l-2.6 -2.6zM42.5 429.4l2.6 2.6l-2.6 2.6l-2.6 -2.6zM44 434.2l2.6 2.6l-2.6 2.6l-2.6 -2.6zM45.3 433.6l2.6 2.6l-2.6 2.6l-2.6 -2.6zM46.6 433.8l2.6 2.6l-2.6 2.6l-2.6 -2.6zM47.9 434.8l2.6 2.6l-2.6 2.6l-2.6 -2.6zM49.2 434.5l2.6 2.6l-2.6 2.6l-2.6 -2.6zM50.5 432.6l2.6 2.6l-2.6 2.6l-2.6 -2.6zM51.8 432.6l2.6 2.6l-2.6 2.6l-2.6 -2.6zM53.1 432.9l2.6 2.6l-2.6 2.6l-2.6 -2.6zM54.4 433.6l2.6 2.6l-2.6 2.6l-2.6 -2.6zM55.7 434.7l2.6 2.6l-2.6 2.6l-2.6 -2.6zM57 434.1l2.6 2.6l-2.6 2.6l-2.6 -2.6zM58.3 433.5l2.6 2.6l-2.6 2.6l-2.6 -2.6zM59.6 433.5l2.6 2.6l-2.6 2.6l-2.6 -2.6zM60.9 434.2l2.6 2.6l-2.6 2.6l-2.6 -2.6zM62.2 434.5l2.6 2.6l-2.6 2.6l-2.6 -2.6zM63.5 433.8l2.6 2.6l-2.6 2.6l-2.6 -2.6zM64.8 432.7l2.6 2.6l-2.6 2.6l-2.6 -2.6zM66.1 432.5l2.6 2.6l-2.6 2.6l-2.6 -2.6zM67.4 433.2l2.6 2.6l-2.6 2.6l-2.6 -2.6zM68.7 433.5l2.6 2.6l-2.6 2.6l-2.6 -2.6zM70 434.1l2.6 2.6l-2.6 2.6l-2.6 -2.6zM71.3 433.9l2.6 2.6l-2.6 2.6l-2.6 -2.6zM72.6 434.6l2.6 2.6l-2.6 2.6l-2.6 -2.6zM73.9 435.3l2.6 2.6l-2.6 2.6l-2.6 -2.6zM75.2 435.9l2.6 2.6l-2.6 2.6l-2.6 -2.6zM76.5 436.2l2.6 2.6l-2.6 2.6l-2.6 -2.6zM77.8 435.2l2.6 2.6l-2.6 2.6l-2.6 -2.6zM79.1 433.8l2.6 2.6l-2.6 2.6l-2.6 -2.6zM80.4 432.9l2.6 2.6l-2.6 2.6l-2.6 -2.6zM81.7 432.1l2.6 2.6l-2.6 2.6l-2.6 -2.6zM83 432.6l2.6 2.6l-2.6 2.6l-2.6 -2.6zM84.3 433.3l2.6 2.6l-2.6 2.6l-2.6 -2.6zM85.6 433l2.6 2.6l-2.6 2.6l-2.6 -2.6zM86.9 433.4l2.6 2.6l-2.6 2.6l-2.6 -2.6zM88.2 434.6l2.6 2.6l-2.6 2.6l-2.6 -2.6zM89.5 436.5l2.6 2.6l-2.6 2.6l-2.6 -2.6zM90.8 435.8l2.6 2.6l-2.6 2.6l-2.6 -2.6zM92.1 434.7l2.6 2.6l-2.6 2.6l-2.6 -2.6zM93.4 433.2l2.6 2.6l-2.6 2.6l-2.6 -2.6zM94.7 432.6l2.6 2.6l-2.6 2.6l-2.6 -2.6zM96 433l2.6 2.6l-2.6 2.6l-2.6 -2.6zM97.3 433.3l2.6 2.6l-2.6 2.6l-2.6 -2.6zM98.6 432.3l2.6 2.6l-2.6 2.6l-2.6 -2.6zM99.9 431.9l2.6 2.6l-2.6 2.6l-2.6 -2.6zM101.2 433l2.6 2.6l-2.6 2.6l-2.6 -2.6zM102.5 433.6l2.6 2.6l-2.6 2.6l-2.6 -2.6zM103.8 434.3l2.6 2.6l-2.6 2.6l-2.6 -2.6zM105.1 435.1l2.6 2.6l-2.6 2.6l-2.6 -2.6zM106.4 434l2.6 2.6l-2.6 2.6l-2.6 -2.6zM107.7 434l2.6 2.6l-2.6 2.6l-2.6 -2.6zM109 433.8l2.6 2.6l-2.6 2.6l-2.6 -2.6zM110.3 434.7l2.6 2.6l-2.6 2.6l-2.6 -2.6zM111.6 433.9l2.6 2.6l-2.6 2.6l-2.6 -2.6zM112.9 432.9l2.6 2.6l-2.6 2.6l-2.6 -2.6zM114.2 432.5l2.6 2.6l-2.6 2.6l-2.6 -2.6zM115.5 433.7l2.6 2.6l-2.6 2.6l-2.6 -2.6zM116.8 434.8l2.6 2.6l-2.6 2.6l-2.6 -2.6zM119 390.2l2.6 2.6l-2.6 2.6l-2.6 -2.6zM117.3 393.2l2.6 2.6l-2.6 2.6l-2.6 -2.6zM119.3 351.7l2.6 2.6l-2.6 2.6l-2.6 -2.6zM122 432.6l2.6 2.6l-2.6 2.6l-2.6 -2.6zM123.3 432.1l2.6 2.6l-2.6 2.6l-2.6 -2.6zM124.6 432.8l2.6 2.6l-2.6 2.6l-2.6 -2.6zM125.9 432.1l2.6 2.6l-2.6 2.6l-2.6 -2.6zM127.2 431.6l2.6 2.6l-2.6 2.6l-2.6 -2.6zM128.5 431.4l2.6 2.6l-2.6 2.6l-2.6 -2.6zM129.8 432.6l2.6 2.6l-2.6 2.6l-2.6 -2.6zM131.1 434l2.6 2.6l-2.6 2.6l-2.6 -2.6zM132.4 434.8l2.6 2.6l-2.6 2.6l-2.6 -2.6zM133.7 433.5l2.6 2.6l-2.6 2.6l-2.6 -2.6zM135 433.4l2.6 2.6l-2.6 2.6l-2.6 -2.6zM136.3 433.6l2.6 2.6l-2.6 2.6l-2.6 -2.6zM137.6 433.9l2.6 2.6l-2.6 2.6l-2.6 -2.6zM138.9 432.8l2.6 2.6l-2.6 2.6l-2.6 -2.6zM140.2 431.8l2.6 2.6l-2.6 2.6l-2.6 -2.6zM141.5 431.8l2.6 2.6l-2.6 2.6l-2.6 -2.6zM142.8 432.1l2.6 2.6l-2.6 2.6l-2.6 -2.6zM144.1 432.5l2.6 2.6l-2.6 2.6l-2.6 -2.6zM145.4 432.9l2.6 2.6l-2.6 2.6l-2.6 -2.6zM146.7 434l2.6 2.6l-2.6 2.6l-2.6 -2.6zM148 433.1l2.6 2.6l-2.6 2.6l-2.6 -2.6zM149.3 433.6l2.6 2.6l-2.6 2.6l-2.6 -2.6zM150.6 433.7l2.6 2.6l-2.6 2.6l-2.6 -2.6zM151.9 434.3l2.6 2.6l-2.6 2.6l-2.6 -2.6zM153.2 433.3l2.6 2.6l-2.6 2.6l-2.6 -2.6zM154.5 433.1l2.6 2.6l-2.6 2.6l-2.6 -2.6zM155.8 432.2l2.6 2.6l-2.6 2.6l-2.6 -2.6zM157.1 433l2.6 2.6l-2.6 2.6l-2.6 -2.6zM158.4 434.5l2.6 2.6l-2.6 2.6l-2.6 -2.6zM159.7 435.1l2.6 2.6l-2.6 2.6l-2.6 -2.6zM161 434.2l2.6 2.6l-2.6 2.6l-2.6 -2.6zM162.3 433.8l2.6 2.6l-2.6 2.6l-2.6 -2.6zM163.6 434.1l2.6 2.6l-2.6 2.6l-2.6 -2.6zM164.9 434.6l2.6 2.6l-2.6 2.6l-2.6 -2.6zM166.2 434.2l2.6 2.6l-2.6 2.6l-2.6 -2.6zM167.5 432.9l2.6 2.6l-2.6 2.6l-2.6 -2.6zM168.8 431.9l2.6 2.6l-2.6 2.6l-2.6 -2.6zM170.1 432l2.6 2.6l-2.6 2.6l-2.6 -2.6zM171.4 432.7l2.6 2.6l-2.6 2.6l-2.6 -2.6zM172.7 432.6l2.6 2.6l-2.6 2.6l-2.6 -2.6zM174 433.2l2.6 2.6l-2.6 2.6l-2.6 -2.6zM175.3 433l2.6 2.6l-2.6 2.6l-2.6 -2.6zM176.6 432.3l2.6 2.6l-2.6 2.6l-2.6 -2.6zM177.9 433.6l2.6 2.6l-2.6 2.6l-2.6 -2.6zM179.2 433.4l2.6 2.6l-2.6 2.6l-2.6 -2.6zM180.5 433.7l2.6 2.6l-2.6 2.6l-2.6 -2.6zM181.8 432.7l2.6 2.6l-2.6 2.6l-2.6 -2.6zM183.1 432l2.6 2.6l-2.6 2.6l-2.6 -2.6zM184.4 431.9l2.6 2.6l-2.6 2.6l-2.6 -2.6zM185.7 432.9l2.6 2.6l-2.6 2.6l-2.6 -2.6zM187 433.7l2.6 2.6l-2.6 2.6l-2.6 -2.6zM188.3 433.6l2.6 2.6l-2.6 2.6l-2.6 -2.6zM189.6 433.5l2.6 2.6l-2.6 2.6l-2.6 -2.6zM190.9 433.4l2.6 2.6l-2.6 2.6l-2.6 -2.6zM192.2 433.9l2.6 2.6l-2.6 2.6l-2.6 -2.6zM193.5 433.8l2.6 2.6l-2.6 2.6l-2.6 -2.6zM194.8 433.7l2.6 2.6l-2.6 2.6l-2.6 -2.6zM196.1 432.4l2.6 2.6l-2.6 2.6l-2.6 -2.6zM197.4 431.4l2.6 2.6l-2.6 2.6l-2.6 -2.6zM198.7 432.2l2.6 2.6l-2.6 2.6l-2.6 -2.6zM200 433l2.6 2.6l-2.6 2.6l-2.6 -2.6zM201.3 433l2.6 2.6l-2.6 2.6l-2.6 -2.6zM202.6 432.5l2.6 2.6l-2.6 2.6l-2.6 -2.6zM203.9 432.6l2.6 2.6l-2.6 2.6l-2.6 -2.6zM205.2 432.7l2.6 2.6l-2.6 2.6l-2.6 -2.6zM206.5 433.4l2.6 2.6l-2.6 2.6l-2.6 -2.6zM207.8 433.8l2.6 2.6l-2.6 2.6l-2.6 -2.6zM209.1 432.5l2.6 2.6l-2.6 2.6l-2.6 -2.6zM210.4 431.7l2.6 2.6l-2.6 2.6l-2.6 -2.6zM211.7 431.3l2.6 2.6l-2.6 2.6l-2.6 -2.6zM213 431.3l2.6 2.6l-2.6 2.6l-2.6 -2.6zM214.3 432.5l2.6 2.6l-2.6 2.6l-2.6 -2.6zM215.6 432l2.6 2.6l-2.6 2.6l-2.6 -2.6zM216.9 432.6l2.6 2.6l-2.6 2.6l-2.6 -2.6zM218.2 433l2.6 2.6l-2.6 2.6l-2.6 -2.6zM219.5 433.7l2.6 2.6l-2.6 2.6l-2.6 -2.6zM220.8 434.1l2.6 2.6l-2.6 2.6l-2.6 -2.6zM222.1 434.6l2.6 2.6l-2.6 2.6l-2.6 -2.6zM223.4 433.6l2.6 2.6l-2.6 2.6l-2.6 -2.6zM224.7 433.4l2.6 2.6l-2.6 2.6l-2.6 -2.6zM226 432.5l2.6 2.6l-2.6 2.6l-2.6 -2.6zM227.3 433.6l2.6 2.6l-2.6 2.6l-2.6 -2.6zM228.6 433.9l2.6 2.6l-2.6 2.6l-2.6 -2.6zM229.9 433.3l2.6 2.6l-2.6 2.6l-2.6 -2.6zM231.2 433.1l2.6 2.6l-2.6 2.6l-2.6 -2.6zM232.5 432.8l2.6 2.6l-2.6 2.6l-2.6 -2.6zM233.8 434.4l2.6 2.6l-2.6 2.6l-2.6 -2.6zM235.1 434.3l2.6 2.6l-2.6 2.6l-2.6 -2.6zM236.4 434.2l2.6 2.6l-2.6 2.6l-2.6 -2.6zM237.7 432.9l2.6 2.6l-2.6 2.6l-2.6 -2.6zM239 431.4l2.6 2.6l-2.6 2.6l-2.6 -2.6zM240.3 432l2.6 2.6l-2.6 2.6l-2.6 -2.6zM241.6 432.7l2.6 2.6l-2.6 2.6l-2.6 -2.6zM242.9 431.9l2.6 2.6l-2.6 2.6l-2.6 -2.6zM244.2 431.9l2.6 2.6l-2.6 2.6l-2.6 -2.6zM245.5 432.3l2.6 2.6l-2.6 2.6l-2.6 -2.6zM246.8 432.6l2.6 2.6l-2.6 2.6l-2.6 -2.6zM248.1 434.4l2.6 2.6l-2.6 2.6l-2.6 -2.6zM249.4 434.2l2.6 2.6l-2.6 2.6l-2.6 -2.6zM250.7 434.2l2.6 2.6l-2.6 2.6l-2.6 -2.6zM252 432.6l2.6 2.6l-2.6 2.6l-2.6 -2.6zM253.3 432.7l2.6 2.6l-2.6 2.6l-2.6 -2.6zM254.6 433.4l2.6 2.6l-2.6 2.6l-2.6 -2.6zM255.9 433l2.6 2.6l-2.6 2.6l-2.6 -2.6zM257.2 432.7l2.6 2.6l-2.6 2.6l-2.6 -2.6zM258.5 432.5l2.6 2.6l-2.6 2.6l-2.6 -2.6zM259.8 432.5l2.6 2.6l-2.6 2.6l-2.6 -2.6zM261.1 433.2l2.6 2.6l-2.6 2.6l-2.6 -2.6zM262.4 434.3l2.6 2.6l-2.6 2.6l-2.6 -2.6zM263.7 434.4l2.6 2.6l-2.6 2.6l-2.6 -2.6zM265 434.3l2.6 2.6l-2.6 2.6l-2.6 -2.6zM266.3 433.3l2.6 2.6l-2.6 2.6l-2.6 -2.6zM267.6 433.4l2.6 2.6l-2.6 2.6l-2.6 -2.6zM268.9 433l2.6 2.6l-2.6 2.6l-2.6 -2.6zM270.2 433.5l2.6 2.6l-2.6 2.6l-2.6 -2.6zM271.5 432.3l2.6 2.6l-2.6 2.6l-2.6 -2.6zM272.8 432.3l2.6 2.6l-2.6 2.6l-2.6 -2.6zM274.1 432.9l2.6 2.6l-2.6 2.6l-2.6 -2.6zM275.4 433.9l2.6 2.6l-2.6 2.6l-2.6 -2.6zM276.7 435.7l2.6 2.6l-2.6 2.6l-2.6 -2.6zM278 435.6l2.6 2.6l-2.6 2.6l-2.6 -2.6zM279.3 435.3l2.6 2.6l-2.6 2.6l-2.6 -2.6zM280.6 435.6l2.6 2.6l-2.6 2.6l-2.6 -2.6zM281.9 435.4l2.6 2.6l-2.6 2.6l-2.6 -2.6zM283.2 436.5l2.6 2.6l-2.6 2.6l-2.6 -2.6zM284.5 435.7l2.6 2.6l-2.6 2.6l-2.6 -2.6zM285.8 434.8l2.6 2.6l-2.6 2.6l-2.6 -2.6zM287.1 435l2.6 2.6l-2.6 2.6l-2.6 -2.6zM288.4 435.2l2.6 2.6l-2.6 2.6l-2.6 -2.6zM289.7 437.1l2.6 2.6l-2.6 2.6l-2.6 -2.6zM291 437.2l2.6 2.6l-2.6 2.6l-2.6 -2.6zM292.3 436.6l2.6 2.6l-2.6 2.6l-2.6 -2.6zM293.6 436.3l2.6 2.6l-2.6 2.6l-2.6 -2.6zM294.9 435.8l2.6 2.6l-2.6 2.6l-2.6 -2.6zM300 430.9l2.6 2.6l-2.6 2.6l-2.6 -2.6zM301.3 431.4l2.6 2.6l-2.6 2.6l-2.6 -2.6zM302.6 431.7l2.6 2.6l-2.6 2.6l-2.6 -2.6zM303.9 433.5l2.6 2.6l-2.6 2.6l-2.6 -2.6zM305.2 433.3l2.6 2.6l-2.6 2.6l-2.6 -2.6zM306.5 433.2l2.6 2.6l-2.6 2.6l-2.6 -2.6zM307.8 433.2l2.6 2.6l-2.6 2.6l-2.6 -2.6zM309.1 432.9l2.6 2.6l-2.6 2.6l-2.6 -2.6zM310.4 433.3l2.6 2.6l-2.6 2.6l-2.6 -2.6zM311.7 432.7l2.6 2.6l-2.6 2.6l-2.6 -2.6zM313 431.5l2.6 2.6l-2.6 2.6l-2.6 -2.6zM314.3 430.8l2.6 2.6l-2.6 2.6l-2.6 -2.6zM315.6 431.2l2.6 2.6l-2.6 2.6l-2.6 -2.6zM316.9 432.7l2.6 2.6l-2.6 2.6l-2.6 -2.6zM318.2 433.4l2.6 2.6l-2.6 2.6l-2.6 -2.6zM319.5 433.6l2.6 2.6l-2.6 2.6l-2.6 -2.6zM320.8 433.5l2.6 2.6l-2.6 2.6l-2.6 -2.6zM322.1 432.7l2.6 2.6l-2.6 2.6l-2.6 -2.6zM323.4 433.1l2.6 2.6l-2.6 2.6l-2.6 -2.6zM324.7 433.8l2.6 2.6l-2.6 2.6l-2.6 -2.6zM332 433.9l2.6 2.6l-2.6 2.6l-2.6 -2.6zM333.3 433.9l2.6 2.6l-2.6 2.6l-2.6 -2.6zM334.6 433.9l2.6 2.6l-2.6 2.6l-2.6 -2.6zM335.9 433.6l2.6 2.6l-2.6 2.6l-2.6 -2.6zM337.2 434.3l2.6 2.6l-2.6 2.6l-2.6 -2.6zM338.5 434.4l2.6 2.6l-2.6 2.6l-2.6 -2.6zM339.8 434.2l2.6 2.6l-2.6 2.6l-2.6 -2.6zM341.1 433l2.6 2.6l-2.6 2.6l-2.6 -2.6zM342.4 431.9l2.6 2.6l-2.6 2.6l-2.6 -2.6zM343.7 432.7l2.6 2.6l-2.6 2.6l-2.6 -2.6zM345 433.4l2.6 2.6l-2.6 2.6l-2.6 -2.6zM346.3 433.5l2.6 2.6l-2.6 2.6l-2.6 -2.6zM347.6 434.2l2.6 2.6l-2.6 2.6l-2.6 -2.6zM348.9 433.2l2.6 2.6l-2.6 2.6l-2.6 -2.6zM350.2 433.4l2.6 2.6l-2.6 2.6l-2.6 -2.6zM351.5 433.8l2.6 2.6l-2.6 2.6l-2.6 -2.6zM352.8 434.3l2.6 2.6l-2.6 2.6l-2.6 -2.6zM354.1 433.5l2.6 2.6l-2.6 2.6l-2.6 -2.6zM355.4 432.2l2.6 2.6l-2.6 2.6l-2.6 -2.6zM356.7 431.3l2.6 2.6l-2.6 2.6l-2.6 -2.6zM358 431.5l2.6 2.6l-2.6 2.6l-2.6 -2.6zM359.3 431.9l2.6 2.6l-2.6 2.6l-2.6 -2.6zM360.6 432.6l2.6 2.6l-2.6 2.6l-2.6 -2.6zM361.9 432.1l2.6 2.6l-2.6 2.6l-2.6 -2.6zM363.2 431.8l2.6 2.6l-2.6 2.6l-2.6 -2.6zM364.5 432.6l2.6 2.6l-2.6 2.6l-2.6 -2.6zM365.8 433l2.6 2.6l-2.6 2.6l-2.6 -2.6zM367.1 433.3l2.6 2.6l-2.6 2.6l-2.6 -2.6zM368.4 432l2.6 2.6l-2.6 2.6l-2.6 -2.6zM369.7 430.6l2.6 2.6l-2.6 2.6l-2.6 -2.6zM371 431.1l2.6 2.6l-2.6 2.6l-2.6 -2.6zM372.3 430.8l2.6 2.6l-2.6 2.6l-2.6 -2.6zM373.6 431.8l2.6 2.6l-2.6 2.6l-2.6 -2.6zM374.9 431.6l2.6 2.6l-2.6 2.6l-2.6 -2.6zM376.2 431.2l2.6 2.6l-2.6 2.6l-2.6 -2.6zM377.5 431.4l2.6 2.6l-2.6 2.6l-2.6 -2.6zM378.8 432.9l2.6 2.6l-2.6 2.6l-2.6 -2.6zM380.1 432.7l2.6 2.6l-2.6 2.6l-2.6 -2.6zM381.4 432.8l2.6 2.6l-2.6 2.6l-2.6 -2.6zM382.7 432l2.6 2.6l-2.6 2.6l-2.6 -2.6zM384 430.5l2.6 2.6l-2.6 2.6l-2.6 -2.6zM399 433.3l2.6 2.6l-2.6 2.6l-2.6 -2.6zM400.3 433.8l2.6 2.6l-2.6 2.6l-2.6 -2.6zM401.6 433.5l2.6 2.6l-2.6 2.6l-2.6 -2.6zM402.9 432.9l2.6 2.6l-2.6 2.6l-2.6 -2.6zM404.2 432.5l2.6 2.6l-2.6 2.6l-2.6 -2.6zM405.5 432.1l2.6 2.6l-2.6 2.6l-2.6 -2.6zM406.8 432.9l2.6 2.6l-2.6 2.6l-2.6 -2.6zM408.1 433.2l2.6 2.6l-2.6 2.6l-2.6 -2.6zM409.4 432.6l2.6 2.6l-2.6 2.6l-2.6 -2.6zM410.7 432.6l2.6 2.6l-2.6 2.6l-2.6 -2.6zM412 432.1l2.6 2.6l-2.6 2.6l-2.6 -2.6zM413.3 432.3l2.6 2.6l-2.6 2.6l-2.6 -2.6zM414.6 432.1l2.6 2.6l-2.6 2.6l-2.6 -2.6zM415.9 432.9l2.6 2.6l-2.6 2.6l-2.6 -2.6zM417.2 432.4l2.6 2.6l-2.6 2.6l-2.6 -2.6zM418.5 432.3l2.6 2.6l-2.6 2.6l-2.6 -2.6zM419.8 433.7l2.6 2.6l-2.6 2.6l-2.6 -2.6zM421.1 434.6l2.6 2.6l-2.6 2.6l-2.6 -2.6zM422.4 434.7l2.6 2.6l-2.6 2.6l-2.6 -2.6zM423.7 434.1l2.6 2.6l-2.6 2.6l-2.6 -2.6zM425 433.5l2.6 2.6l-2.6 2.6l-2.6 -2.6zM426.3 433.2l2.6 2.6l-2.6 2.6l-2.6 -2.6zM427.6 433.9l2.6 2.6l-2.6 2.6l-2.6 -2.6zM428.9 434.4l2.6 2.6l-2.6 2.6l-2.6 -2.6zM430.2 434l2.6 2.6l-2.6 2.6l-2.6 -2.6zM431.5 433.8l2.6 2.6l-2.6 2.6l-2.6 -2.6zM432.8 434.1l2.6 2.6l-2.6 2.6l-2.6 -2.6zM434.1 434.8l2.6 2.6l-2.6 2.6l-2.6 -2.6zM435.4 436.1l2.6 2.6l-2.6 2.6l-2.6 -2.6zM436.7 435.9l2.6 2.6l-2.6 2.6l-2.6 -2.6zM438 435.4l2.6 2.6l-2.6 2.6l-2.6 -2.6zM439.3 434.5l2.6 2.6l-2.6 2.6l-2.6 -2.6zM440.6 434.2l2.6 2.6l-2.6 2.6l-2.6 -2.6zM441.9 434.7l2.6 2.6l-2.6 2.6l-2.6 -2.6zM298.2 316.9l2.6 2.6l-2.6 2.6l-2.6 -2.6zM297.9 323.2l2.6 2.6l-2.6 2.6l-2.6 -2.6zM295.4 352.6l2.6 2.6l-2.6 2.6l-2.6 -2.6zM294.9 361.8l2.6 2.6l-2.6 2.6l-2.6 -2.6zM299.9 378.5l2.6 2.6l-2.6 2.6l-2.6 -2.6zM329.6 337l2.6 2.6l-2.6 2.6l-2.6 -2.6zM330 352.6l2.6 2.6l-2.6 2.6l-2.6 -2.6zM328.4 354.2l2.6 2.6l-2.6 2.6l-2.6 -2.6zM327.2 355.6l2.6 2.6l-2.6 2.6l-2.6 -2.6zM326.7 365.6l2.6 2.6l-2.6 2.6l-2.6 -2.6zM325.9 391.6l2.6 2.6l-2.6 2.6l-2.6 -2.6zM331.8 389.9l2.6 2.6l-2.6 2.6l-2.6 -2.6zM384 317l2.6 2.6l-2.6 2.6l-2.6 -2.6zM397 376.5l2.6 2.6l-2.6 2.6l-2.6 -2.6zM385.6 380.2l2.6 2.6l-2.6 2.6l-2.6 -2.6zM389 380.7l2.6 2.6l-2.6 2.6l-2.6 -2.6zM392.3 380.2l2.6 2.6l-2.6 2.6l-2.6 -2.6zM390.6 382.7l2.6 2.6l-2.6 2.6l-2.6 -2.6zM393 383.8l2.6 2.6l-2.6 2.6l-2.6 -2.6zM388 385.2l2.6 2.6l-2.6 2.6l-2.6 -2.6zM394.8 386.9l2.6 2.6l-2.6 2.6l-2.6 -2.6zM393 388.4l2.6 2.6l-2.6 2.6l-2.6 -2.6zM390.6 390.4l2.6 2.6l-2.6 2.6l-2.6 -2.6z" fill="#78E628" stroke="none"/>
<path d="M38 445.5h5v5h-5zM39.4 445.2h5v5h-5zM40.8 445.5h5v5h-5zM42.2 445.1h5v5h-5zM43.6 445.2h5v5h-5zM45 445.2h5v5h-5zM46.4 445.4h5v5h-5zM47.8 445.5h5v5h-5zM49.2 445.4h5v5h-5zM50.6 445.2h5v5h-5zM52 445.5h5v5h-5zM53.4 445.2h5v5h-5zM54.8 445.2h5v5h-5zM56.2 445.5h5v5h-5zM57.6 445.4h5v5h-5zM59 445.4h5v5h-5zM60.4 445.4h5v5h-5zM61.8 445.5h5v5h-5zM63.2 445.3h5v5h-5zM64.6 445.5h5v5h-5zM66 445.4h5v5h-5zM67.4 445.5h5v5h-5zM68.8 445.3h5v5h-5zM70.2 445.4h5v5h-5zM71.6 445.3h5v5h-5zM73 445.2h5v5h-5zM74.4 445.2h5v5h-5zM75.8 445.4h5v5h-5zM77.2 445.1h5v5h-5zM78.6 445.5h5v5h-5zM80 445.1h5v5h-5zM81.4 445.1h5v5h-5zM82.8 445.1h5v5h-5zM84.2 445.5h5v5h-5zM85.6 445.2h5v5h-5zM87 445.1h5v5h-5zM88.4 445.1h5v5h-5zM89.8 445.1h5v5h-5zM91.2 445.4h5v5h-5zM92.6 445.4h5v5h-5zM94 445.4h5v5h-5zM95.4 445.4h5v5h-5zM96.8 445.1h5v5h-5zM98.2 445.3h5v5h-5zM99.6 445.2h5v5h-5zM101 445.5h5v5h-5zM102.4 445.5h5v5h-5zM103.8 445.5h5v5h-5zM105.2 445.1h5v5h-5zM106.6 445.5h5v5h-5zM108 445.5h5v5h-5zM109.4 445.5h5v5h-5zM110.8 445.1h5v5h-5zM112.2 445.2h5v5h-5zM113.6 445.1h5v5h-5zM56.5 438.8h5v5h-5zM57.8 439.3h5v5h-5zM59.1 439.3h5v5h-5zM60.4 439.2h5v5h-5zM61.7 439.3h5v5h-5zM56.5 442.4h5v5h-5zM57.8 442.2h5v5h-5zM59.1 442.1h5v5h-5zM60.4 442.1h5v5h-5zM61.7 442.5h5v5h-5zM63 442.1h5v5h-5zM64.3 442.2h5v5h-5zM65.6 442.3h5v5h-5zM66.9 442h5v5h-5zM116.8 314.6h5v5h-5zM116 341.8h5v5h-5zM118.1 371.6h5v5h-5zM115.1 411.5h5v5h-5zM118.9 428h5v5h-5zM117.5 434.7h5v5h-5zM118.7 435h5v5h-5zM119.9 436.6h5v5h-5zM121.1 435.7h5v5h-5zM122.3 435.7h5v5h-5zM123.5 438h5v5h-5zM124.7 436.4h5v5h-5zM125.9 437.4h5v5h-5zM127.1 436.5h5v5h-5zM128.3 434.5h5v5h-5zM129.5 435.6h5v5h-5zM130.7 435.8h5v5h-5zM131.9 437.4h5v5h-5zM133.1 436.6h5v5h-5zM134.3 438.3h5v5h-5zM135.5 438.4h5v5h-5zM136.7 438.7h5v5h-5zM137.9 442h5v5h-5zM139.1 440.4h5v5h-5zM140.3 443.1h5v5h-5zM141.5 441.4h5v5h-5zM142.7 441.2h5v5h-5zM143.9 442.2h5v5h-5zM145.1 444.4h5v5h-5zM146.3 445.4h5v5h-5zM147.5 442.6h5v5h-5zM148.7 444.4h5v5h-5zM149.9 444.7h5v5h-5zM151.1 446h5v5h-5zM119.5 438.7h5v5h-5zM121.1 439.7h5v5h-5zM122.7 439.6h5v5h-5zM124.3 441h5v5h-5zM125.9 439.8h5v5h-5zM127.5 441.7h5v5h-5zM129.1 440.3h5v5h-5zM130.7 440.4h5v5h-5zM132.3 441.8h5v5h-5zM133.9 441.5h5v5h-5zM135.5 440.8h5v5h-5zM137.1 442.3h5v5h-5zM151.5 445h5v5h-5zM152.9 445.3h5v5h-5zM154.3 445.3h5v5h-5zM155.7 445.3h5v5h-5zM157.1 445.3h5v5h-5zM158.5 445.1h5v5h-5zM159.9 445.1h5v5h-5zM161.3 445.1h5v5h-5zM162.7 445.4h5v5h-5zM164.1 445h5v5h-5zM165.5 445.4h5v5h-5zM166.9 444.9h5v5h-5zM168.3 445h5v5h-5zM169.7 445h5v5h-5zM171.1 445.4h5v5h-5zM172.5 445.2h5v5h-5zM173.9 445.1h5v5h-5zM175.3 445.3h5v5h-5zM176.7 445h5v5h-5zM178.1 445.1h5v5h-5zM179.5 445.2h5v5h-5zM180.9 445.3h5v5h-5zM182.3 445.3h5v5h-5zM183.7 445.2h5v5h-5zM185.1 445.1h5v5h-5zM186.5 445h5v5h-5zM187.9 445h5v5h-5zM189.3 445.3h5v5h-5zM190.7 445.2h5v5h-5zM192.1 445.2h5v5h-5zM193.5 444.9h5v5h-5zM194.9 445.1h5v5h-5zM196.3 445.2h5v5h-5zM197.7 445.1h5v5h-5zM199.1 444.9h5v5h-5zM200.5 445.1h5v5h-5zM201.9 445.3h5v5h-5zM203.3 445h5v5h-5zM204.7 444.9h5v5h-5zM206.1 445h5v5h-5zM207.5 445.2h5v5h-5zM208.9 445.3h5v5h-5zM210.3 444.9h5v5h-5zM211.7 444.9h5v5h-5zM213.1 444.9h5v5h-5zM214.5 445h5v5h-5zM215.9 445.1h5v5h-5zM217.3 444.9h5v5h-5zM218.7 445h5v5h-5zM220.1 444.9h5v5h-5zM221.5 445.3h5v5h-5zM222.9 445.2h5v5h-5zM224.3 444.8h5v5h-5zM225.7 445.3h5v5h-5zM227.1 444.8h5v5h-5zM228.5 445h5v5h-5zM229.9 445.3h5v5h-5zM231.3 445.2h5v5h-5zM232.7 445.1h5v5h-5zM234.1 445h5v5h-5zM235.5 444.9h5v5h-5zM236.9 445.1h5v5h-5zM238.3 444.8h5v5h-5zM239.7 444.9h5v5h-5zM241.1 445h5v5h-5zM242.5 444.8h5v5h-5zM243.9 445h5v5h-5zM245.3 445.1h5v5h-5zM246.7 445.1h5v5h-5zM248.1 445h5v5h-5zM249.5 445.1h5v5h-5zM250.9 445h5v5h-5zM252.3 444.8h5v5h-5zM253.7 445h5v5h-5zM255.1 444.9h5v5h-5zM256.5 445.1h5v5h-5zM257.9 445.2h5v5h-5zM259.3 444.9h5v5h-5zM260.7 445h5v5h-5zM262.1 445.1h5v5h-5zM263.5 444.9h5v5h-5zM264.9 444.8h5v5h-5zM266.3 445.1h5v5h-5zM267.7 445.1h5v5h-5zM269.1 445.1h5v5h-5zM270.5 445h5v5h-5zM271.9 445.1h5v5h-5zM273.3 445h5v5h-5zM274.7 445h5v5h-5zM276.1 444.9h5v5h-5zM277.5 444.8h5v5h-5zM278.9 445h5v5h-5zM280.3 444.7h5v5h-5zM281.7 444.9h5v5h-5zM283.1 445.1h5v5h-5zM284.5 445h5v5h-5zM285.9 445h5v5h-5zM287.3 444.8h5v5h-5zM288.7 444.9h5v5h-5zM290.1 444.9h5v5h-5zM291.5 445h5v5h-5zM292.9 444.9h5v5h-5zM210.1 439.4h5v5h-5zM211.4 439.5h5v5h-5zM212.7 439h5v5h-5zM214 439.3h5v5h-5zM215.3 439.3h5v5h-5zM216.6 439.1h5v5h-5zM217.9 439.1h5v5h-5zM208.5 442.6h5v5h-5zM209.8 442h5v5h-5zM211.1 442.3h5v5h-5zM212.4 442.1h5v5h-5zM213.7 442.5h5v5h-5zM215 442.6h5v5h-5zM216.3 442.3h5v5h-5zM217.6 442.1h5v5h-5zM218.9 442.3h5v5h-5zM235.2 440.7h5v5h-5zM236.5 440.8h5v5h-5zM237.8 440.7h5v5h-5zM239.1 440.8h5v5h-5zM240.4 440.9h5v5h-5zM294.5 313.8h5v5h-5zM293.2 330.9h5v5h-5zM292.4 335.4h5v5h-5zM295.2 352.3h5v5h-5zM302.1 372.5h5v5h-5zM305.5 380.3h5v5h-5zM326.4 334.5h5v5h-5zM325.1 369.8h5v5h-5zM324.2 376.1h5v5h-5zM305.5 381.1h5v5h-5zM305 384.5h5v5h-5zM307 387.5h5v5h-5zM303.3 393.3h5v5h-5zM308.6 394.5h5v5h-5zM328.1 393.3h5v5h-5zM323.1 399h5v5h-5zM296.5 408.7h5v5h-5zM297.4 417.1h5v5h-5zM300.8 417.1h5v5h-5zM298.3 421h5v5h-5zM310.8 412.1h5v5h-5zM313.3 412.9h5v5h-5zM311.7 415.5h5v5h-5zM314.2 418h5v5h-5zM316.7 420.5h5v5h-5zM318.4 423h5v5h-5zM320.4 425.5h5v5h-5zM322.1 417.6h5v5h-5zM328.9 426.3h5v5h-5zM299.1 435.5h5v5h-5zM299.9 440.5h5v5h-5zM328.5 445.3h5v5h-5zM329.8 445.1h5v5h-5zM331.1 445.2h5v5h-5zM332.4 444.7h5v5h-5zM333.7 444.7h5v5h-5zM335 444.5h5v5h-5zM337.3 440.5h5v5h-5zM336.8 434.7h5v5h-5zM339 427.7h5v5h-5zM339.8 421.8h5v5h-5zM341 414.6h5v5h-5zM343.5 413.8h5v5h-5zM346 416.3h5v5h-5zM348.5 417.6h5v5h-5zM350.2 417.9h5v5h-5zM351.9 417.6h5v5h-5zM353.5 417.1h5v5h-5zM355.2 416.3h5v5h-5zM356.9 412.1h5v5h-5zM358.1 407.9h5v5h-5zM359.1 402.9h5v5h-5zM361.1 395.3h5v5h-5zM362.7 395.5h5v5h-5zM364.5 396.2h5v5h-5zM367 408.7h5v5h-5zM366.1 418.8h5v5h-5zM368.5 425.5h5v5h-5zM367.8 432.2h5v5h-5zM370.3 435.5h5v5h-5zM371.5 439.5h5v5h-5zM373 438.9h5v5h-5zM375.5 441.5h5v5h-5zM378.1 435.5h5v5h-5zM379.7 443.1h5v5h-5zM381.5 443.9h5v5h-5zM366.3 396.2h5v5h-5zM387.3 314.6h5v5h-5zM385.5 317h5v5h-5zM388.5 335.4h5v5h-5zM390.3 351.8h5v5h-5zM391.5 356h5v5h-5zM393.2 360.2h5v5h-5zM384.8 369.9h5v5h-5zM382.3 373.6h5v5h-5zM383.1 390h5v5h-5zM395.7 391.7h5v5h-5zM394.8 406.7h5v5h-5zM383.5 410.1h5v5h-5zM396.5 443.9h5v5h-5zM398.2 439.8h5v5h-5zM397.3 433h5v5h-5zM399.9 426.3h5v5h-5zM401.5 423h5v5h-5zM402.5 421.8h5v5h-5zM403.7 421h5v5h-5zM404.7 423.5h5v5h-5zM405.7 425.5h5v5h-5zM407.5 425.7h5v5h-5zM409.1 425.5h5v5h-5zM410.5 424.5h5v5h-5zM411.5 423.8h5v5h-5zM412.8 422.5h5v5h-5zM414.1 421.3h5v5h-5zM415.3 421.7h5v5h-5zM416.5 422.2h5v5h-5zM418.3 425.5h5v5h-5zM419.9 426.5h5v5h-5zM421.5 427.2h5v5h-5zM423.3 427.7h5v5h-5zM425 428h5v5h-5zM426.7 428.5h5v5h-5zM428.3 428.9h5v5h-5zM429.5 430.1h5v5h-5zM430.9 431.4h5v5h-5zM432.5 433.9h5v5h-5zM433.7 435.1h5v5h-5zM435 436.4h5v5h-5zM437 436.4h5v5h-5zM439.2 436.4h5v5h-5zM440.1 443.9h5v5h-5z" fill="#BE3CE1" stroke="none"/>
<path d="M37.1 377.8h5.2M55.2 329.5h5.2M56.4 333.4h5.2M57.4 335.4h5.2M60.2 359.4h5.2M61.1 382.5h5.2M42.3 392.8h5.2M39.3 398.7h5.2M46.3 397.5h5.2M44.3 406.7h5.2M50.2 409.9h5.2M51.3 412.4h5.2M63.2 388.1h5.2M65.2 392.8h5.2M66.4 397h5.2M68.3 400.4h5.2M69.9 401.7h5.2M71.1 406.2h5.2M74 423h5.2M75.3 412h5.2M78.6 413.8h5.2M81.2 410.9h5.2M84.5 410.4h5.2M87.9 412h5.2M90.4 414h5.2M93.7 412h5.2M97.1 412h5.2M100.4 415.4h5.2M101.8 407.9h5.2M105.8 393.1h5.2M110.4 408.4h5.2M112.2 407h5.2M118.4 373.2h5.2M121.4 370.4h5.2M122.2 382.8h5.2M122.2 387h5.2M157.3 325.3h5.2M163.3 326.3h5.2M162.3 329.5h5.2M167 330.5h5.2M172.1 331.7h5.2M172.9 327.2h5.2M177.9 325.8h5.2M181.3 325h5.2M189.2 325.8h5.2M138.5 358.2h5.2M134.3 361h5.2M139.4 359.9h5.2M144.4 361h5.2M130.2 362.7h5.2M135.2 364h5.2M151.9 359h5.2M155.6 360.2h5.2M151.6 364h5.2M128.4 367.2h5.2M142.7 366.9h5.2M120.9 370.6h5.2M126.8 373.9h5.2M124.3 376.1h5.2M128.1 376.5h5.2M148.3 373.3h5.2M125.1 383.3h5.2M122.6 386.4h5.2M190 359h5.2M190.8 361.5h5.2M199.7 369.2h5.2M194.2 380.5h5.2M249.7 311.9h5.2M252.7 313.6h5.2M244.8 313.6h5.2M242.3 315.3h5.2M241.8 322.2h5.2M240.1 323.8h5.2M238.4 325.3h5.2M236.8 329.2h5.2M235.4 330.9h5.2M258.6 330.5h5.2M234.6 342.6h5.2M220.9 358.5h5.2M231.8 359h5.2M216.7 361h5.2M222.9 362.7h5.2M218.9 366h5.2M226.7 367.4h5.2M212.8 372h5.2M212.1 381.5h5.2M230.9 382.8h5.2M259.4 361.9h5.2M264.4 363.5h5.2M266.4 365.2h5.2M267.8 367.7h5.2M268.6 371.1h5.2M272.8 372h5.2M276.2 372h5.2M272.8 374.4h5.2M274.4 376.6h5.2M279.4 375.6h5.2M283.2 378.1h5.2M285.4 387h5.2M297.3 348h5.2M298.2 354.8h5.2M330 338.9h5.2M339.7 346.3h5.2M341.7 347.3h5.2M338.7 350.6h5.2M337.9 352.3h5.2M336.7 361.9h5.2M333.9 366.6h5.2M344.7 367.2h5.2M345.9 379.5h5.2M282.2 376.1h5.2M283.4 378.1h5.2M285.1 387h5.2M311.6 381.5h5.2M313.2 382.8h5.2M309.1 383.3h5.2M302.4 387.5h5.2M318.6 387h5.2M316.9 388.3h5.2M367.7 369.8h5.2M369.4 371.1h5.2M371.4 367.2h5.2M366.9 374.1h5.2M358.8 387.8h5.2M362.7 389h5.2M352.6 392.3h5.2M361.8 394.2h5.2M353.8 396.5h5.2M372.4 367.2h5.2M368.4 370.3h5.2M377.1 371.1h5.2M366.2 374.4h5.2M395.6 372.4h5.2M424.1 371.9h5.2M427.1 374.9h5.2M429.9 376.5h5.2M428.2 377.8h5.2M435.8 378.6h5.2M428.7 380h5.2M398.1 395.3h5.2M396.4 402h5.2M403.1 413.3h5.2M405.1 418.5h5.2M412.4 421h5.2M409.8 424.7h5.2M421.2 390.3h5.2M417.4 399.2h5.2M416.4 404.2h5.2" stroke="#1670F0" stroke-width="1.6" fill="none"/>
<g font-size="13" fill="#000" stroke="#000" stroke-width="0.18">
<text x="28.6" y="304" text-anchor="end">8</text>
<text x="28.6" y="341.1" text-anchor="end">6</text>
<text x="28.6" y="378.2" text-anchor="end">4</text>
<text x="28.6" y="415.3" text-anchor="end">2</text>
<text x="28.6" y="452.4" text-anchor="end">0</text>
<text x="492.6" y="304">0</text>
<text x="493" y="322.6">-200</text>
<text x="493" y="341.1">-400</text>
<text x="493" y="359.6">-600</text>
<text x="493" y="378.2">-800</text>
<text x="493" y="396.8">-1000</text>
<text x="493" y="415.3">-1200</text>
<text x="493" y="433.8">-1400</text>
<text x="493" y="452.4">-1600</text>
<text x="39.7" y="467.5" text-anchor="middle">6/18/2010</text>
<text x="127.9" y="467.5" text-anchor="middle">10/31/2011</text>
<text x="216.1" y="467.5" text-anchor="middle">3/14/2013</text>
<text x="304.4" y="467.5" text-anchor="middle">7/27/2014</text>
<text x="392.6" y="467.5" text-anchor="middle">12/9/2015</text>
<text x="480.8" y="467.5" text-anchor="middle">4/22/2017</text>
</g>
<g font-weight="bold" fill="#000" stroke="#000" stroke-width="0.15" text-anchor="middle">
<text x="259.2" y="483.3" font-size="13.1">Production date</text>
<text transform="translate(15.3 373.7) rotate(-90)" font-size="13">Pressure/MPa</text>
<text transform="translate(537.9 373.6) rotate(-90)" font-size="13.25">Dynamic liquid level/m</text>
<g font-size="10.5">
<text x="73.8" y="282.5">Edge-water</text>
<text x="73.5" y="294.3">driving process</text>
<text x="255.6" y="289.2">CO<tspan font-size="6.2" dy="2.9">2</tspan><tspan dy="-2.9"> huff-n-puff process</tspan></text>
<text x="431.9" y="282.4">N<tspan font-size="6.2" dy="2.9">2</tspan><tspan dy="-2.9">-foam assisted</tspan></text>
<text x="433.4" y="294.7">CO<tspan font-size="6.2" dy="2.9">2</tspan><tspan dy="-2.9"> huff-n-puff process</tspan></text>
</g></g>
<circle cx="131.4" cy="314.1" r="5.1" fill="#fff" fill-opacity="0" stroke="#222" stroke-width="0.9"/>
<text x="131.4" y="317.4" font-size="9.6" text-anchor="middle" fill="#111">1</text>
<circle cx="304.6" cy="309.4" r="5.1" fill="#fff" fill-opacity="0" stroke="#222" stroke-width="0.9"/>
<text x="304.6" y="312.7" font-size="9.6" text-anchor="middle" fill="#111">2</text>
<circle cx="336.8" cy="327" r="5.1" fill="#fff" fill-opacity="0" stroke="#222" stroke-width="0.9"/>
<text x="336.8" y="330.3" font-size="9.6" text-anchor="middle" fill="#111">3</text>
<rect x="5.2" y="487.1" width="523.2" height="20.2" fill="none" stroke="#222" stroke-width="1.3"/>
<g font-size="12" fill="#000" stroke="#000" stroke-width="0.18">
<path d="M70.3 494.6l2.5 2.5l-2.5 2.5l-2.5 -2.5z" fill="#78E628" stroke="none"/>
<text x="76.2" y="500.6">Tubing pressure</text>
<path d="M215.2 494.8h4.6v4.6h-4.6z" fill="#BE3CE1" stroke="none"/>
<text x="223.1" y="500.6">Casing pressure</text>
<path d="M360.9 497.1h5" stroke="#1670F0" stroke-width="1.6" fill="none"/>
<text x="370.1" y="500.6">Dynamic liquid level</text>
</g>
<text x="267.8" y="531.9" font-size="13.9" text-anchor="middle" fill="#000" stroke="#000" stroke-width="0.18"><tspan font-weight="bold">(b)</tspan> Pressure data and dynamic liquid level.</text>
</svg>
</body></html>
